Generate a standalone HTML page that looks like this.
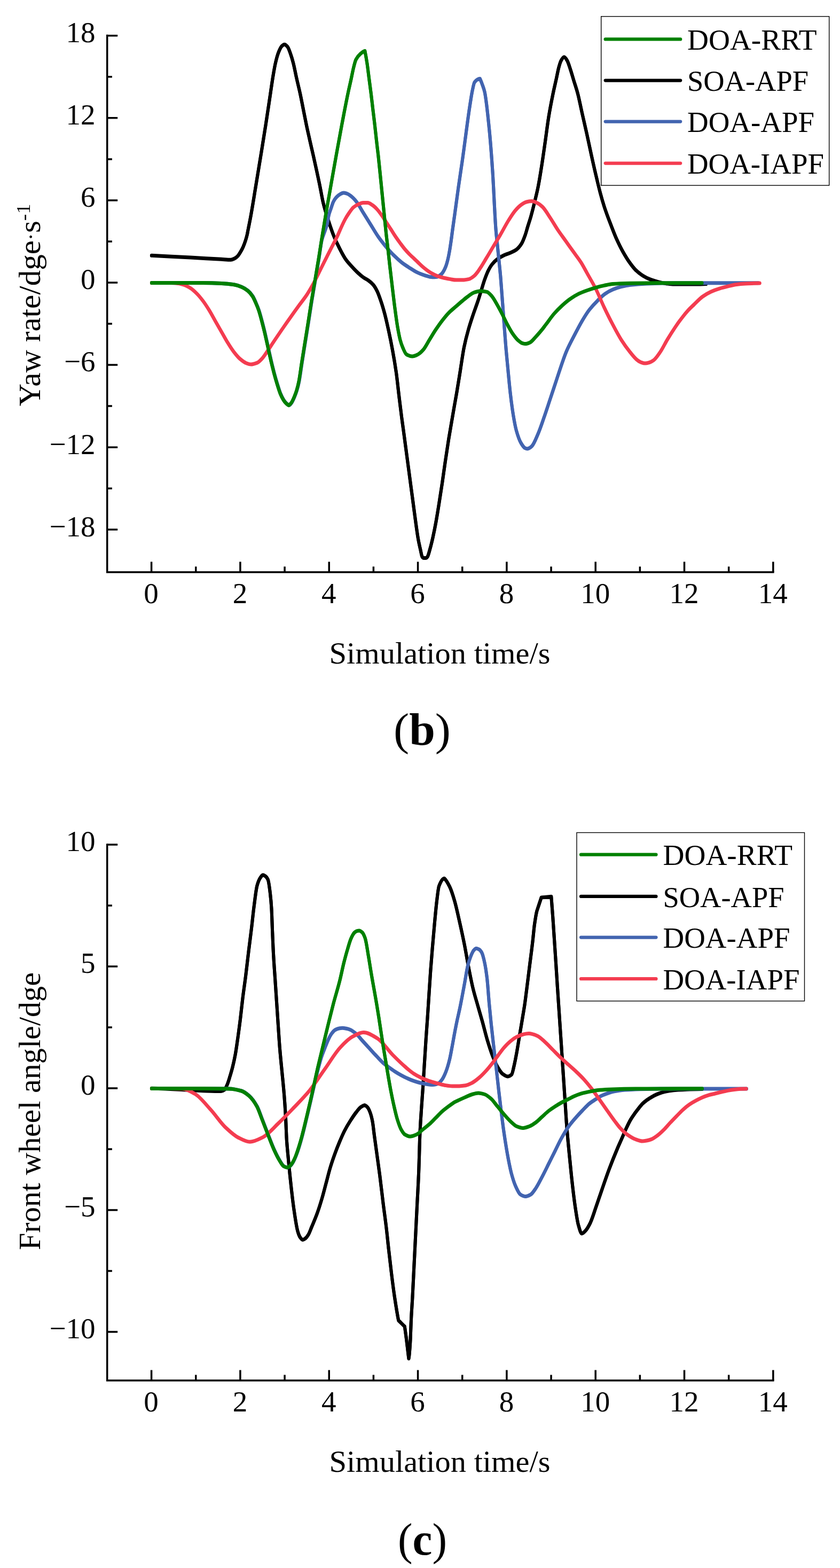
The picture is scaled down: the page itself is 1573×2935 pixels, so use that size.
<!DOCTYPE html>
<html lang="en"><head><meta charset="utf-8"><title>Figure: yaw rate and front wheel angle</title>
<style>
html,body{margin:0;padding:0;background:#fff}
body{width:1573px;height:2935px;overflow:hidden}
svg{display:block}
svg text{font-family:"Liberation Serif","DejaVu Serif",serif;fill:#000}
</style></head><body>
<svg width="1573" height="2935" viewBox="0 0 1573 2935">
<rect width="1573" height="2935" fill="#fff"/>
<g id="chart-b">
<g fill="none" stroke="#000000" stroke-width="6.00" stroke-linejoin="round" stroke-linecap="round"><path d="M283.9 478.3C308.2 479.5 332.6 480.8 356.9 482.1C376.2 483.1 395.5 484.3 414.8 485.3C420.6 485.6 426.4 486.2 432.2 486.2C434.6 486.2 437.0 484.9 439.4 483.8C441.3 482.9 443.3 481.2 445.2 479.2C447.1 477.2 449.1 473.8 451.0 470.5C452.5 468.0 453.9 465.2 455.4 461.9C456.8 458.6 458.3 454.7 459.7 450.3C460.7 447.3 461.6 444.2 462.6 440.1C463.3 437.3 463.9 433.4 464.6 430.0C466.2 421.7 467.9 413.9 469.5 405.0C472.6 388.1 475.7 368.3 478.8 349.6C482.0 330.5 485.1 311.2 488.3 291.7C491.4 272.6 494.5 253.7 497.6 233.8C500.5 215.1 503.4 195.3 506.3 175.9C507.7 166.3 509.2 155.6 510.6 146.9C512.4 136.2 514.1 125.4 515.9 117.9C517.8 109.6 519.8 102.5 521.7 97.7C523.6 93.0 525.5 88.4 527.4 86.6C529.2 84.9 530.9 83.2 532.7 83.2C534.6 83.2 536.5 85.3 538.4 87.5C540.3 89.6 542.1 95.5 544.0 100.6C545.7 105.4 547.5 111.2 549.2 117.9C551.3 126.0 553.4 137.5 555.5 146.9C557.7 156.9 560.0 165.5 562.2 175.9C564.1 184.9 566.1 195.2 568.0 204.8C569.9 214.4 571.9 224.6 573.8 233.8C575.9 244.0 578.1 253.3 580.2 262.8C582.4 272.6 584.6 281.9 586.8 291.7C588.9 301.2 591.1 310.8 593.2 320.7C595.2 330.1 597.3 339.6 599.3 349.6C601.2 358.9 603.1 370.6 605.0 378.6C607.2 387.8 609.3 394.8 611.5 402.0C613.6 409.1 615.8 415.5 617.9 421.7C620.3 428.8 622.8 436.0 625.2 442.0C627.6 447.9 630.0 452.9 632.4 457.9C634.8 463.0 637.3 467.9 639.7 472.4C642.1 476.8 644.5 481.3 646.9 484.7C650.5 489.9 654.2 493.8 657.8 497.8C662.1 502.5 666.3 507.1 670.6 511.0C673.7 513.9 676.9 516.7 680.0 518.9C683.2 521.2 686.4 522.5 689.6 524.8C692.8 527.1 695.9 529.5 699.1 533.2C701.5 536.0 703.9 540.2 706.3 545.1C708.7 550.0 711.1 557.2 713.5 564.3C715.9 571.3 718.2 579.2 720.6 588.1C723.0 597.2 725.4 608.1 727.8 619.2C730.2 630.3 732.6 642.0 735.0 655.1C737.4 668.0 739.7 681.2 742.1 698.1C743.7 709.5 745.3 725.4 746.9 738.7C748.6 752.7 750.3 767.1 752.0 780.0C753.2 789.2 754.4 797.3 755.6 806.2C757.5 820.4 759.5 835.1 761.4 849.6C763.3 864.1 765.3 878.6 767.2 893.1C769.1 907.6 771.1 922.0 773.0 936.5C774.9 951.0 776.9 966.3 778.8 980.0C780.2 990.2 781.7 1001.1 783.1 1009.0C784.5 1016.9 786.0 1023.0 787.4 1029.2C788.5 1033.9 789.5 1040.7 790.6 1042.3C791.4 1043.5 792.2 1044.6 793.0 1044.6C794.7 1044.6 796.3 1044.6 798.0 1044.6C798.9 1044.6 799.7 1043.3 800.6 1042.0C802.0 1040.0 803.4 1034.0 804.8 1029.2C806.7 1022.6 808.7 1014.6 810.6 1006.0C812.5 997.4 814.5 987.6 816.4 977.1C818.3 966.6 820.3 954.3 822.2 942.3C824.1 930.3 826.1 917.7 828.0 904.7C829.9 891.7 831.9 877.2 833.8 864.1C835.9 849.6 838.1 835.2 840.2 822.0C841.9 811.5 843.6 801.9 845.3 792.0C847.0 782.3 848.6 772.6 850.3 763.0C852.0 753.1 853.8 743.7 855.5 733.5C857.5 721.5 859.6 708.6 861.6 696.0C864.0 680.9 866.5 662.3 868.9 650.3C871.7 636.7 874.4 626.6 877.2 616.8C880.2 606.0 883.3 597.1 886.3 588.1C889.1 579.7 891.9 572.7 894.7 564.3C897.0 557.5 899.2 549.9 901.5 542.7C903.5 536.3 905.5 529.2 907.5 523.6C909.7 517.3 912.0 511.4 914.2 506.9C916.6 502.1 918.9 498.0 921.3 495.0C924.5 490.9 927.7 487.8 930.9 485.4C934.9 482.4 938.8 480.1 942.8 478.2C946.8 476.3 950.8 475.3 954.8 473.5C958.8 471.8 962.7 470.3 966.7 467.5C969.9 465.2 973.1 461.6 976.3 456.7C978.7 453.0 981.1 446.7 983.5 440.0C985.0 435.8 986.5 429.9 988.0 425.0C990.1 418.1 992.2 412.1 994.3 404.7C996.5 396.8 998.8 387.8 1001.0 378.6C1003.2 369.4 1005.5 360.8 1007.7 349.6C1010.1 337.4 1012.6 321.8 1015.0 306.2C1017.1 292.8 1019.2 277.5 1021.3 262.8C1023.3 248.5 1025.4 231.8 1027.4 219.3C1030.1 202.7 1032.8 189.1 1035.5 175.9C1037.6 165.5 1039.8 156.7 1041.9 146.9C1043.4 140.2 1044.8 132.0 1046.3 126.6C1047.7 121.4 1049.2 116.1 1050.6 113.6C1052.5 110.3 1054.5 106.8 1056.4 106.8C1058.3 106.8 1060.3 110.4 1062.2 113.6C1064.1 116.8 1066.1 123.7 1068.0 129.5C1070.1 135.7 1072.1 143.0 1074.2 149.8C1076.8 158.5 1079.5 165.9 1082.1 175.9C1084.7 185.7 1087.2 199.2 1089.8 210.6C1092.9 224.3 1095.9 237.3 1099.0 251.2C1101.9 264.3 1104.8 278.6 1107.7 291.7C1110.6 304.6 1113.4 317.3 1116.3 329.4C1118.9 340.4 1121.5 351.5 1124.1 361.2C1126.6 370.6 1129.2 379.5 1131.7 387.3C1135.6 399.2 1139.4 409.1 1143.3 419.2C1147.2 429.3 1151.0 439.5 1154.9 448.1C1158.8 456.7 1162.6 464.4 1166.5 471.3C1170.4 478.2 1174.2 484.6 1178.1 490.1C1181.9 495.5 1185.8 500.8 1189.6 504.6C1194.4 509.4 1199.3 513.2 1204.1 516.2C1208.9 519.2 1213.8 521.6 1218.6 523.4C1223.4 525.2 1228.3 526.6 1233.1 527.8C1237.9 529.0 1242.8 530.1 1247.6 530.7C1252.4 531.3 1257.2 532.1 1262.0 532.1C1274.7 532.1 1287.3 532.1 1300.0 532.1C1307.3 532.1 1314.7 531.8 1322.0 531.6" transform="translate(0,-0.5)"/><path d="M283.9 478.3C308.2 479.5 332.6 480.8 356.9 482.1C376.2 483.1 395.5 484.3 414.8 485.3C420.6 485.6 426.4 486.2 432.2 486.2C434.6 486.2 437.0 484.9 439.4 483.8C441.3 482.9 443.3 481.2 445.2 479.2C447.1 477.2 449.1 473.8 451.0 470.5C452.5 468.0 453.9 465.2 455.4 461.9C456.8 458.6 458.3 454.7 459.7 450.3C460.7 447.3 461.6 444.2 462.6 440.1C463.3 437.3 463.9 433.4 464.6 430.0C466.2 421.7 467.9 413.9 469.5 405.0C472.6 388.1 475.7 368.3 478.8 349.6C482.0 330.5 485.1 311.2 488.3 291.7C491.4 272.6 494.5 253.7 497.6 233.8C500.5 215.1 503.4 195.3 506.3 175.9C507.7 166.3 509.2 155.6 510.6 146.9C512.4 136.2 514.1 125.4 515.9 117.9C517.8 109.6 519.8 102.5 521.7 97.7C523.6 93.0 525.5 88.4 527.4 86.6C529.2 84.9 530.9 83.2 532.7 83.2C534.6 83.2 536.5 85.3 538.4 87.5C540.3 89.6 542.1 95.5 544.0 100.6C545.7 105.4 547.5 111.2 549.2 117.9C551.3 126.0 553.4 137.5 555.5 146.9C557.7 156.9 560.0 165.5 562.2 175.9C564.1 184.9 566.1 195.2 568.0 204.8C569.9 214.4 571.9 224.6 573.8 233.8C575.9 244.0 578.1 253.3 580.2 262.8C582.4 272.6 584.6 281.9 586.8 291.7C588.9 301.2 591.1 310.8 593.2 320.7C595.2 330.1 597.3 339.6 599.3 349.6C601.2 358.9 603.1 370.6 605.0 378.6C607.2 387.8 609.3 394.8 611.5 402.0C613.6 409.1 615.8 415.5 617.9 421.7C620.3 428.8 622.8 436.0 625.2 442.0C627.6 447.9 630.0 452.9 632.4 457.9C634.8 463.0 637.3 467.9 639.7 472.4C642.1 476.8 644.5 481.3 646.9 484.7C650.5 489.9 654.2 493.8 657.8 497.8C662.1 502.5 666.3 507.1 670.6 511.0C673.7 513.9 676.9 516.7 680.0 518.9C683.2 521.2 686.4 522.5 689.6 524.8C692.8 527.1 695.9 529.5 699.1 533.2C701.5 536.0 703.9 540.2 706.3 545.1C708.7 550.0 711.1 557.2 713.5 564.3C715.9 571.3 718.2 579.2 720.6 588.1C723.0 597.2 725.4 608.1 727.8 619.2C730.2 630.3 732.6 642.0 735.0 655.1C737.4 668.0 739.7 681.2 742.1 698.1C743.7 709.5 745.3 725.4 746.9 738.7C748.6 752.7 750.3 767.1 752.0 780.0C753.2 789.2 754.4 797.3 755.6 806.2C757.5 820.4 759.5 835.1 761.4 849.6C763.3 864.1 765.3 878.6 767.2 893.1C769.1 907.6 771.1 922.0 773.0 936.5C774.9 951.0 776.9 966.3 778.8 980.0C780.2 990.2 781.7 1001.1 783.1 1009.0C784.5 1016.9 786.0 1023.0 787.4 1029.2C788.5 1033.9 789.5 1040.7 790.6 1042.3C791.4 1043.5 792.2 1044.6 793.0 1044.6C794.7 1044.6 796.3 1044.6 798.0 1044.6C798.9 1044.6 799.7 1043.3 800.6 1042.0C802.0 1040.0 803.4 1034.0 804.8 1029.2C806.7 1022.6 808.7 1014.6 810.6 1006.0C812.5 997.4 814.5 987.6 816.4 977.1C818.3 966.6 820.3 954.3 822.2 942.3C824.1 930.3 826.1 917.7 828.0 904.7C829.9 891.7 831.9 877.2 833.8 864.1C835.9 849.6 838.1 835.2 840.2 822.0C841.9 811.5 843.6 801.9 845.3 792.0C847.0 782.3 848.6 772.6 850.3 763.0C852.0 753.1 853.8 743.7 855.5 733.5C857.5 721.5 859.6 708.6 861.6 696.0C864.0 680.9 866.5 662.3 868.9 650.3C871.7 636.7 874.4 626.6 877.2 616.8C880.2 606.0 883.3 597.1 886.3 588.1C889.1 579.7 891.9 572.7 894.7 564.3C897.0 557.5 899.2 549.9 901.5 542.7C903.5 536.3 905.5 529.2 907.5 523.6C909.7 517.3 912.0 511.4 914.2 506.9C916.6 502.1 918.9 498.0 921.3 495.0C924.5 490.9 927.7 487.8 930.9 485.4C934.9 482.4 938.8 480.1 942.8 478.2C946.8 476.3 950.8 475.3 954.8 473.5C958.8 471.8 962.7 470.3 966.7 467.5C969.9 465.2 973.1 461.6 976.3 456.7C978.7 453.0 981.1 446.7 983.5 440.0C985.0 435.8 986.5 429.9 988.0 425.0C990.1 418.1 992.2 412.1 994.3 404.7C996.5 396.8 998.8 387.8 1001.0 378.6C1003.2 369.4 1005.5 360.8 1007.7 349.6C1010.1 337.4 1012.6 321.8 1015.0 306.2C1017.1 292.8 1019.2 277.5 1021.3 262.8C1023.3 248.5 1025.4 231.8 1027.4 219.3C1030.1 202.7 1032.8 189.1 1035.5 175.9C1037.6 165.5 1039.8 156.7 1041.9 146.9C1043.4 140.2 1044.8 132.0 1046.3 126.6C1047.7 121.4 1049.2 116.1 1050.6 113.6C1052.5 110.3 1054.5 106.8 1056.4 106.8C1058.3 106.8 1060.3 110.4 1062.2 113.6C1064.1 116.8 1066.1 123.7 1068.0 129.5C1070.1 135.7 1072.1 143.0 1074.2 149.8C1076.8 158.5 1079.5 165.9 1082.1 175.9C1084.7 185.7 1087.2 199.2 1089.8 210.6C1092.9 224.3 1095.9 237.3 1099.0 251.2C1101.9 264.3 1104.8 278.6 1107.7 291.7C1110.6 304.6 1113.4 317.3 1116.3 329.4C1118.9 340.4 1121.5 351.5 1124.1 361.2C1126.6 370.6 1129.2 379.5 1131.7 387.3C1135.6 399.2 1139.4 409.1 1143.3 419.2C1147.2 429.3 1151.0 439.5 1154.9 448.1C1158.8 456.7 1162.6 464.4 1166.5 471.3C1170.4 478.2 1174.2 484.6 1178.1 490.1C1181.9 495.5 1185.8 500.8 1189.6 504.6C1194.4 509.4 1199.3 513.2 1204.1 516.2C1208.9 519.2 1213.8 521.6 1218.6 523.4C1223.4 525.2 1228.3 526.6 1233.1 527.8C1237.9 529.0 1242.8 530.1 1247.6 530.7C1252.4 531.3 1257.2 532.1 1262.0 532.1C1274.7 532.1 1287.3 532.1 1300.0 532.1C1307.3 532.1 1314.7 531.8 1322.0 531.6" transform="translate(0,0.5)"/></g>
<g fill="none" stroke="#4264b0" stroke-width="6.00" stroke-linejoin="round" stroke-linecap="round"><path d="M284.5 529.6C316.5 529.6 348.6 529.6 380.6 529.6C392.2 529.6 403.8 529.9 415.4 530.4C423.1 530.7 430.9 531.6 438.6 532.8C443.4 533.6 448.3 535.2 453.1 537.2C457.0 538.8 460.8 541.2 464.7 544.4C467.6 546.8 470.5 550.1 473.4 554.5C475.3 557.4 477.2 561.8 479.1 566.1C481.0 570.4 483.0 575.0 484.9 580.6C486.8 586.2 488.8 593.7 490.7 600.9C492.6 608.1 494.6 615.9 496.5 624.1C498.4 632.3 500.4 641.4 502.3 650.1C504.2 658.8 506.2 668.0 508.1 676.2C510.0 684.4 512.0 692.2 513.9 699.4C515.8 706.6 517.8 713.4 519.7 719.6C521.6 725.8 523.6 732.4 525.5 737.0C527.4 741.6 529.4 745.6 531.3 748.6C533.2 751.6 535.2 754.1 537.1 755.8C538.5 757.0 540.0 758.7 541.4 758.7C542.9 758.7 544.3 756.3 545.8 754.4C547.7 751.9 549.7 747.3 551.6 742.8C553.0 739.5 554.5 735.8 555.9 731.2C557.3 726.6 558.8 721.0 560.2 713.9C561.8 705.8 563.5 692.5 565.1 682.0C567.1 669.2 569.1 656.8 571.1 644.3C573.3 630.7 575.4 617.5 577.6 603.8C579.7 590.5 581.8 576.1 583.9 563.2C586.2 549.1 588.5 536.3 590.8 522.7C592.9 510.3 595.0 497.9 597.1 485.0C599.0 473.3 600.9 456.6 602.8 449.0C604.4 442.7 605.9 439.7 607.5 435.0C609.2 430.0 610.8 426.5 612.5 420.0C613.6 415.7 614.7 406.7 615.8 402.4C617.1 397.2 618.5 394.3 619.8 390.4C621.2 386.2 622.7 381.0 624.1 378.0C625.6 375.0 627.0 372.7 628.5 370.9C629.9 369.1 631.4 367.7 632.8 366.5C634.2 365.3 635.7 364.3 637.1 363.5C639.1 362.4 641.2 361.0 643.2 361.0C645.5 361.0 647.7 361.8 650.0 362.5C652.0 363.2 654.1 364.7 656.1 366.2C660.0 369.0 663.8 373.0 667.7 377.8C671.6 382.6 675.4 390.4 679.3 396.6C684.1 404.4 689.0 412.1 693.8 419.8C698.6 427.5 703.5 436.1 708.3 443.0C713.1 449.9 718.0 456.0 722.8 461.8C727.6 467.5 732.4 472.9 737.2 477.7C742.0 482.5 746.9 487.0 751.7 490.8C756.5 494.6 761.4 497.8 766.2 500.9C771.0 504.0 775.9 507.3 780.7 509.6C785.5 511.9 790.4 514.0 795.2 515.4C800.0 516.8 804.8 518.8 809.6 518.8C812.5 518.8 815.4 518.6 818.3 518.3C821.3 518.0 824.2 515.4 827.2 512.5C829.6 510.1 832.1 505.3 834.5 499.5C835.9 496.1 837.4 490.8 838.8 485.0C839.8 481.1 840.7 476.0 841.7 470.5C842.7 465.0 843.6 458.4 844.6 451.7C845.6 445.0 846.5 437.1 847.5 430.0C848.9 419.7 850.3 410.2 851.7 400.0C854.0 383.7 856.2 365.9 858.5 350.1C860.9 333.0 863.3 317.9 865.7 301.0C870.5 267.7 875.2 227.8 880.0 197.0C881.5 187.3 883.0 177.0 884.5 170.0C885.9 163.4 887.3 155.5 888.7 153.8C892.1 149.7 895.4 147.3 898.8 147.3C900.4 150.9 902.1 155.1 903.7 159.7C905.0 163.3 906.2 166.3 907.5 171.7C910.4 184.3 913.4 213.7 916.3 243.0C918.3 263.3 920.4 290.0 922.4 320.0C924.5 350.5 926.5 404.4 928.6 430.0C929.6 442.0 930.5 449.4 931.5 459.0C932.5 468.6 933.4 478.3 934.4 487.9C935.4 497.5 936.3 505.9 937.3 516.9C938.0 525.3 938.8 536.2 939.5 545.8C940.2 555.4 941.0 564.9 941.7 574.8C942.4 584.2 943.1 594.3 943.8 603.8C944.9 618.5 946.0 633.9 947.1 646.9C948.4 662.8 949.8 676.3 951.1 690.3C952.5 705.3 954.0 721.4 955.4 733.8C957.3 750.6 959.3 765.6 961.2 777.2C963.1 788.8 965.1 799.3 967.0 806.2C969.9 816.5 972.8 824.5 975.7 829.4C978.1 833.5 980.6 837.4 983.0 838.6C984.4 839.3 985.9 840.0 987.3 840.0C988.7 840.0 990.1 839.2 991.5 838.6C993.0 837.9 994.5 836.7 996.0 835.2C999.9 831.2 1003.7 821.0 1007.6 812.0C1011.5 803.0 1015.3 791.2 1019.2 780.1C1023.1 769.0 1026.9 757.0 1030.8 745.4C1034.6 733.9 1038.5 722.1 1042.3 710.6C1046.2 699.0 1050.0 686.8 1053.9 675.9C1056.1 669.6 1058.4 663.2 1060.6 658.0C1065.9 645.5 1071.3 636.0 1076.6 625.7C1081.2 616.8 1085.9 607.8 1090.5 600.0C1094.8 592.7 1099.2 585.6 1103.5 580.0C1108.7 573.3 1113.8 567.9 1119.0 562.8C1123.7 558.1 1128.4 553.3 1133.1 550.1C1137.9 546.8 1142.6 544.1 1147.4 542.1C1152.7 539.8 1158.1 538.0 1163.4 536.7C1168.7 535.4 1174.0 534.1 1179.3 533.5C1189.9 532.2 1200.6 531.4 1211.2 531.0C1229.3 530.3 1247.4 529.8 1265.5 529.8C1317.0 529.8 1368.5 529.8 1420.0 529.8" transform="translate(0,-0.5)"/><path d="M284.5 529.6C316.5 529.6 348.6 529.6 380.6 529.6C392.2 529.6 403.8 529.9 415.4 530.4C423.1 530.7 430.9 531.6 438.6 532.8C443.4 533.6 448.3 535.2 453.1 537.2C457.0 538.8 460.8 541.2 464.7 544.4C467.6 546.8 470.5 550.1 473.4 554.5C475.3 557.4 477.2 561.8 479.1 566.1C481.0 570.4 483.0 575.0 484.9 580.6C486.8 586.2 488.8 593.7 490.7 600.9C492.6 608.1 494.6 615.9 496.5 624.1C498.4 632.3 500.4 641.4 502.3 650.1C504.2 658.8 506.2 668.0 508.1 676.2C510.0 684.4 512.0 692.2 513.9 699.4C515.8 706.6 517.8 713.4 519.7 719.6C521.6 725.8 523.6 732.4 525.5 737.0C527.4 741.6 529.4 745.6 531.3 748.6C533.2 751.6 535.2 754.1 537.1 755.8C538.5 757.0 540.0 758.7 541.4 758.7C542.9 758.7 544.3 756.3 545.8 754.4C547.7 751.9 549.7 747.3 551.6 742.8C553.0 739.5 554.5 735.8 555.9 731.2C557.3 726.6 558.8 721.0 560.2 713.9C561.8 705.8 563.5 692.5 565.1 682.0C567.1 669.2 569.1 656.8 571.1 644.3C573.3 630.7 575.4 617.5 577.6 603.8C579.7 590.5 581.8 576.1 583.9 563.2C586.2 549.1 588.5 536.3 590.8 522.7C592.9 510.3 595.0 497.9 597.1 485.0C599.0 473.3 600.9 456.6 602.8 449.0C604.4 442.7 605.9 439.7 607.5 435.0C609.2 430.0 610.8 426.5 612.5 420.0C613.6 415.7 614.7 406.7 615.8 402.4C617.1 397.2 618.5 394.3 619.8 390.4C621.2 386.2 622.7 381.0 624.1 378.0C625.6 375.0 627.0 372.7 628.5 370.9C629.9 369.1 631.4 367.7 632.8 366.5C634.2 365.3 635.7 364.3 637.1 363.5C639.1 362.4 641.2 361.0 643.2 361.0C645.5 361.0 647.7 361.8 650.0 362.5C652.0 363.2 654.1 364.7 656.1 366.2C660.0 369.0 663.8 373.0 667.7 377.8C671.6 382.6 675.4 390.4 679.3 396.6C684.1 404.4 689.0 412.1 693.8 419.8C698.6 427.5 703.5 436.1 708.3 443.0C713.1 449.9 718.0 456.0 722.8 461.8C727.6 467.5 732.4 472.9 737.2 477.7C742.0 482.5 746.9 487.0 751.7 490.8C756.5 494.6 761.4 497.8 766.2 500.9C771.0 504.0 775.9 507.3 780.7 509.6C785.5 511.9 790.4 514.0 795.2 515.4C800.0 516.8 804.8 518.8 809.6 518.8C812.5 518.8 815.4 518.6 818.3 518.3C821.3 518.0 824.2 515.4 827.2 512.5C829.6 510.1 832.1 505.3 834.5 499.5C835.9 496.1 837.4 490.8 838.8 485.0C839.8 481.1 840.7 476.0 841.7 470.5C842.7 465.0 843.6 458.4 844.6 451.7C845.6 445.0 846.5 437.1 847.5 430.0C848.9 419.7 850.3 410.2 851.7 400.0C854.0 383.7 856.2 365.9 858.5 350.1C860.9 333.0 863.3 317.9 865.7 301.0C870.5 267.7 875.2 227.8 880.0 197.0C881.5 187.3 883.0 177.0 884.5 170.0C885.9 163.4 887.3 155.5 888.7 153.8C892.1 149.7 895.4 147.3 898.8 147.3C900.4 150.9 902.1 155.1 903.7 159.7C905.0 163.3 906.2 166.3 907.5 171.7C910.4 184.3 913.4 213.7 916.3 243.0C918.3 263.3 920.4 290.0 922.4 320.0C924.5 350.5 926.5 404.4 928.6 430.0C929.6 442.0 930.5 449.4 931.5 459.0C932.5 468.6 933.4 478.3 934.4 487.9C935.4 497.5 936.3 505.9 937.3 516.9C938.0 525.3 938.8 536.2 939.5 545.8C940.2 555.4 941.0 564.9 941.7 574.8C942.4 584.2 943.1 594.3 943.8 603.8C944.9 618.5 946.0 633.9 947.1 646.9C948.4 662.8 949.8 676.3 951.1 690.3C952.5 705.3 954.0 721.4 955.4 733.8C957.3 750.6 959.3 765.6 961.2 777.2C963.1 788.8 965.1 799.3 967.0 806.2C969.9 816.5 972.8 824.5 975.7 829.4C978.1 833.5 980.6 837.4 983.0 838.6C984.4 839.3 985.9 840.0 987.3 840.0C988.7 840.0 990.1 839.2 991.5 838.6C993.0 837.9 994.5 836.7 996.0 835.2C999.9 831.2 1003.7 821.0 1007.6 812.0C1011.5 803.0 1015.3 791.2 1019.2 780.1C1023.1 769.0 1026.9 757.0 1030.8 745.4C1034.6 733.9 1038.5 722.1 1042.3 710.6C1046.2 699.0 1050.0 686.8 1053.9 675.9C1056.1 669.6 1058.4 663.2 1060.6 658.0C1065.9 645.5 1071.3 636.0 1076.6 625.7C1081.2 616.8 1085.9 607.8 1090.5 600.0C1094.8 592.7 1099.2 585.6 1103.5 580.0C1108.7 573.3 1113.8 567.9 1119.0 562.8C1123.7 558.1 1128.4 553.3 1133.1 550.1C1137.9 546.8 1142.6 544.1 1147.4 542.1C1152.7 539.8 1158.1 538.0 1163.4 536.7C1168.7 535.4 1174.0 534.1 1179.3 533.5C1189.9 532.2 1200.6 531.4 1211.2 531.0C1229.3 530.3 1247.4 529.8 1265.5 529.8C1317.0 529.8 1368.5 529.8 1420.0 529.8" transform="translate(0,0.5)"/></g>
<g fill="none" stroke="#f43c50" stroke-width="6.00" stroke-linejoin="round" stroke-linecap="round"><path d="M283.9 529.6C295.9 529.6 308.0 529.6 320.0 529.6C324.6 529.6 329.1 530.1 333.7 530.6C337.6 531.0 341.4 532.2 345.3 533.5C349.2 534.8 353.0 537.0 356.9 539.5C360.8 542.0 364.6 545.6 368.5 549.5C372.4 553.4 376.2 558.1 380.1 563.2C384.0 568.3 387.8 574.3 391.7 580.6C395.5 586.8 399.4 594.2 403.2 600.9C407.1 607.7 410.9 614.5 414.8 621.2C418.7 627.9 422.5 635.2 426.4 641.4C430.3 647.6 434.1 653.8 438.0 658.8C441.9 663.8 445.7 668.6 449.6 671.9C453.5 675.2 457.3 678.3 461.2 679.7C464.1 680.8 467.0 682.0 469.9 682.0C473.7 682.0 477.6 680.6 481.4 679.1C484.3 678.0 487.2 674.9 490.1 671.9C493.0 668.9 495.9 664.4 498.8 660.3C501.7 656.2 504.6 651.5 507.5 647.2C511.4 641.4 515.2 635.6 519.1 629.9C523.0 624.1 526.9 618.3 530.9 612.6C535.6 605.7 540.4 598.9 545.2 592.2C550.0 585.4 554.9 578.6 559.7 572.0C564.5 565.4 569.3 559.7 574.1 552.5C578.0 546.7 581.8 540.0 585.7 533.0C588.8 527.4 591.9 521.2 595.0 515.0C597.4 510.2 599.8 505.0 602.3 500.1C605.1 494.4 607.9 488.9 610.7 483.3C613.1 478.5 615.6 473.6 618.0 468.9C620.4 464.2 622.8 459.7 625.2 455.0C627.6 450.3 630.0 445.7 632.4 440.6C634.8 435.4 637.3 429.1 639.7 423.9C642.1 418.8 644.5 413.7 646.9 409.4C648.8 405.9 650.8 402.8 652.7 400.0C655.8 395.5 658.9 390.6 662.0 388.0C665.3 385.3 668.7 383.3 672.0 382.0C674.7 380.9 677.3 379.6 680.0 379.6C682.9 379.6 685.8 379.6 688.7 379.6C691.6 379.6 694.5 382.1 697.4 383.9C700.3 385.7 703.2 388.6 706.1 391.7C709.0 394.8 711.9 398.9 714.8 403.0C717.7 407.0 720.5 411.7 723.4 416.1C726.3 420.5 729.1 424.7 732.0 429.2C734.9 433.7 737.9 438.7 740.8 443.0C743.7 447.3 746.6 451.3 749.5 455.2C752.4 459.1 755.3 463.1 758.2 466.5C761.1 469.9 764.0 473.1 766.9 476.0C769.7 478.9 772.6 481.3 775.4 484.0C777.9 486.3 780.3 488.7 782.7 491.0C786.7 494.8 790.7 498.8 794.7 502.0C798.7 505.2 802.6 508.2 806.6 510.5C810.6 512.9 814.6 515.0 818.6 516.5C822.6 518.0 826.5 519.1 830.5 520.0C834.5 521.0 838.5 521.7 842.5 522.4C846.5 523.1 850.4 524.1 854.4 524.1C858.4 524.1 862.4 524.1 866.4 524.1C870.4 524.1 874.3 523.3 878.3 522.4C881.5 521.6 884.7 519.1 887.9 516.5C890.3 514.5 892.7 511.3 895.1 508.1C897.5 505.0 899.8 501.0 902.2 497.3C904.6 493.5 907.0 489.4 909.4 485.4C911.8 481.4 914.2 477.5 916.6 473.5C919.0 469.5 921.3 465.5 923.7 461.5C926.1 457.5 928.5 453.6 930.9 449.6C932.8 446.4 934.8 443.2 936.7 439.9C942.0 430.9 947.3 420.4 952.6 412.0C956.7 405.5 960.9 398.8 965.0 394.0C968.6 389.8 972.2 386.0 975.8 383.5C979.2 381.1 982.6 378.8 986.0 378.0C989.3 377.3 992.7 376.6 996.0 376.6C999.3 376.6 1002.7 378.4 1006.0 380.0C1009.3 381.5 1012.6 384.2 1015.9 387.3C1020.7 391.9 1025.5 400.4 1030.3 407.6C1035.1 414.8 1040.0 423.5 1044.8 430.7C1049.6 437.9 1054.5 444.2 1059.3 451.0C1064.1 457.8 1069.0 464.5 1073.8 471.3C1078.6 478.1 1083.5 484.0 1088.3 491.6C1092.1 497.6 1095.9 505.1 1099.7 511.9C1105.0 521.4 1110.3 530.0 1115.6 540.5C1120.9 551.0 1126.2 564.5 1131.5 575.6C1136.8 586.7 1142.1 597.4 1147.4 607.4C1152.7 617.5 1158.1 627.7 1163.4 636.1C1168.7 644.4 1174.0 651.8 1179.3 658.4C1183.5 663.7 1187.8 669.4 1192.0 672.8C1194.7 675.0 1197.3 677.0 1200.0 678.0C1202.7 679.0 1205.3 680.1 1208.0 680.1C1210.7 680.1 1213.3 679.3 1216.0 678.5C1218.6 677.7 1221.3 676.3 1223.9 674.4C1228.2 671.4 1232.4 664.6 1236.7 658.4C1240.9 652.2 1245.2 643.2 1249.4 636.1C1254.1 628.3 1258.8 620.8 1263.5 613.8C1268.0 607.1 1272.5 600.8 1277.0 595.0C1280.8 590.0 1284.7 585.2 1288.5 581.0C1292.2 576.9 1296.0 573.6 1299.7 570.0C1305.0 564.9 1310.3 559.1 1315.6 555.3C1320.9 551.5 1326.2 548.4 1331.5 546.0C1336.8 543.6 1342.1 541.7 1347.4 540.1C1352.7 538.5 1358.1 537.2 1363.4 535.9C1368.7 534.7 1374.0 533.2 1379.3 532.5C1384.6 531.8 1389.9 531.3 1395.2 531.0C1400.5 530.7 1405.9 530.4 1411.2 530.2C1415.0 530.1 1418.8 530.0 1422.6 529.9" transform="translate(0,-0.5)"/><path d="M283.9 529.6C295.9 529.6 308.0 529.6 320.0 529.6C324.6 529.6 329.1 530.1 333.7 530.6C337.6 531.0 341.4 532.2 345.3 533.5C349.2 534.8 353.0 537.0 356.9 539.5C360.8 542.0 364.6 545.6 368.5 549.5C372.4 553.4 376.2 558.1 380.1 563.2C384.0 568.3 387.8 574.3 391.7 580.6C395.5 586.8 399.4 594.2 403.2 600.9C407.1 607.7 410.9 614.5 414.8 621.2C418.7 627.9 422.5 635.2 426.4 641.4C430.3 647.6 434.1 653.8 438.0 658.8C441.9 663.8 445.7 668.6 449.6 671.9C453.5 675.2 457.3 678.3 461.2 679.7C464.1 680.8 467.0 682.0 469.9 682.0C473.7 682.0 477.6 680.6 481.4 679.1C484.3 678.0 487.2 674.9 490.1 671.9C493.0 668.9 495.9 664.4 498.8 660.3C501.7 656.2 504.6 651.5 507.5 647.2C511.4 641.4 515.2 635.6 519.1 629.9C523.0 624.1 526.9 618.3 530.9 612.6C535.6 605.7 540.4 598.9 545.2 592.2C550.0 585.4 554.9 578.6 559.7 572.0C564.5 565.4 569.3 559.7 574.1 552.5C578.0 546.7 581.8 540.0 585.7 533.0C588.8 527.4 591.9 521.2 595.0 515.0C597.4 510.2 599.8 505.0 602.3 500.1C605.1 494.4 607.9 488.9 610.7 483.3C613.1 478.5 615.6 473.6 618.0 468.9C620.4 464.2 622.8 459.7 625.2 455.0C627.6 450.3 630.0 445.7 632.4 440.6C634.8 435.4 637.3 429.1 639.7 423.9C642.1 418.8 644.5 413.7 646.9 409.4C648.8 405.9 650.8 402.8 652.7 400.0C655.8 395.5 658.9 390.6 662.0 388.0C665.3 385.3 668.7 383.3 672.0 382.0C674.7 380.9 677.3 379.6 680.0 379.6C682.9 379.6 685.8 379.6 688.7 379.6C691.6 379.6 694.5 382.1 697.4 383.9C700.3 385.7 703.2 388.6 706.1 391.7C709.0 394.8 711.9 398.9 714.8 403.0C717.7 407.0 720.5 411.7 723.4 416.1C726.3 420.5 729.1 424.7 732.0 429.2C734.9 433.7 737.9 438.7 740.8 443.0C743.7 447.3 746.6 451.3 749.5 455.2C752.4 459.1 755.3 463.1 758.2 466.5C761.1 469.9 764.0 473.1 766.9 476.0C769.7 478.9 772.6 481.3 775.4 484.0C777.9 486.3 780.3 488.7 782.7 491.0C786.7 494.8 790.7 498.8 794.7 502.0C798.7 505.2 802.6 508.2 806.6 510.5C810.6 512.9 814.6 515.0 818.6 516.5C822.6 518.0 826.5 519.1 830.5 520.0C834.5 521.0 838.5 521.7 842.5 522.4C846.5 523.1 850.4 524.1 854.4 524.1C858.4 524.1 862.4 524.1 866.4 524.1C870.4 524.1 874.3 523.3 878.3 522.4C881.5 521.6 884.7 519.1 887.9 516.5C890.3 514.5 892.7 511.3 895.1 508.1C897.5 505.0 899.8 501.0 902.2 497.3C904.6 493.5 907.0 489.4 909.4 485.4C911.8 481.4 914.2 477.5 916.6 473.5C919.0 469.5 921.3 465.5 923.7 461.5C926.1 457.5 928.5 453.6 930.9 449.6C932.8 446.4 934.8 443.2 936.7 439.9C942.0 430.9 947.3 420.4 952.6 412.0C956.7 405.5 960.9 398.8 965.0 394.0C968.6 389.8 972.2 386.0 975.8 383.5C979.2 381.1 982.6 378.8 986.0 378.0C989.3 377.3 992.7 376.6 996.0 376.6C999.3 376.6 1002.7 378.4 1006.0 380.0C1009.3 381.5 1012.6 384.2 1015.9 387.3C1020.7 391.9 1025.5 400.4 1030.3 407.6C1035.1 414.8 1040.0 423.5 1044.8 430.7C1049.6 437.9 1054.5 444.2 1059.3 451.0C1064.1 457.8 1069.0 464.5 1073.8 471.3C1078.6 478.1 1083.5 484.0 1088.3 491.6C1092.1 497.6 1095.9 505.1 1099.7 511.9C1105.0 521.4 1110.3 530.0 1115.6 540.5C1120.9 551.0 1126.2 564.5 1131.5 575.6C1136.8 586.7 1142.1 597.4 1147.4 607.4C1152.7 617.5 1158.1 627.7 1163.4 636.1C1168.7 644.4 1174.0 651.8 1179.3 658.4C1183.5 663.7 1187.8 669.4 1192.0 672.8C1194.7 675.0 1197.3 677.0 1200.0 678.0C1202.7 679.0 1205.3 680.1 1208.0 680.1C1210.7 680.1 1213.3 679.3 1216.0 678.5C1218.6 677.7 1221.3 676.3 1223.9 674.4C1228.2 671.4 1232.4 664.6 1236.7 658.4C1240.9 652.2 1245.2 643.2 1249.4 636.1C1254.1 628.3 1258.8 620.8 1263.5 613.8C1268.0 607.1 1272.5 600.8 1277.0 595.0C1280.8 590.0 1284.7 585.2 1288.5 581.0C1292.2 576.9 1296.0 573.6 1299.7 570.0C1305.0 564.9 1310.3 559.1 1315.6 555.3C1320.9 551.5 1326.2 548.4 1331.5 546.0C1336.8 543.6 1342.1 541.7 1347.4 540.1C1352.7 538.5 1358.1 537.2 1363.4 535.9C1368.7 534.7 1374.0 533.2 1379.3 532.5C1384.6 531.8 1389.9 531.3 1395.2 531.0C1400.5 530.7 1405.9 530.4 1411.2 530.2C1415.0 530.1 1418.8 530.0 1422.6 529.9" transform="translate(0,0.5)"/></g>
<g fill="none" stroke="#008000" stroke-width="6.00" stroke-linejoin="round" stroke-linecap="round"><path d="M283.9 529.6C315.9 529.6 348.0 529.6 380.0 529.6C391.6 529.6 403.2 529.9 414.8 530.4C422.5 530.7 430.3 531.6 438.0 532.8C442.8 533.6 447.7 535.2 452.5 537.2C456.4 538.8 460.2 541.2 464.1 544.4C467.0 546.8 469.9 550.1 472.8 554.5C474.7 557.4 476.6 561.8 478.5 566.1C480.4 570.4 482.4 575.0 484.3 580.6C486.2 586.2 488.2 593.7 490.1 600.9C492.0 608.1 494.0 615.9 495.9 624.1C497.8 632.3 499.8 641.4 501.7 650.1C503.6 658.8 505.6 668.0 507.5 676.2C509.4 684.4 511.4 692.2 513.3 699.4C515.2 706.6 517.2 713.4 519.1 719.6C521.0 725.8 523.0 732.4 524.9 737.0C526.8 741.6 528.8 745.6 530.7 748.6C532.6 751.6 534.6 754.1 536.5 755.8C537.9 757.0 539.4 758.1 540.8 758.7C542.3 757.9 543.7 756.3 545.2 754.4C547.1 751.9 549.1 747.3 551.0 742.8C552.4 739.5 553.9 735.8 555.3 731.2C556.7 726.6 558.2 721.0 559.6 713.9C561.2 705.8 562.9 692.5 564.5 682.0C566.5 669.2 568.5 656.8 570.5 644.3C572.7 630.7 574.8 617.5 577.0 603.8C579.1 590.5 581.2 576.1 583.3 563.2C585.6 549.1 587.9 536.3 590.2 522.7C592.3 510.3 594.4 498.0 596.5 485.0C598.3 473.7 600.2 461.4 602.0 450.0C604.8 432.8 607.5 416.1 610.3 400.0C612.7 386.2 615.0 373.5 617.4 360.0C618.5 353.7 619.6 347.3 620.7 341.0C623.9 322.8 627.1 304.7 630.3 287.0C633.7 268.4 637.0 249.7 640.4 232.0C644.1 212.7 647.7 193.4 651.4 175.9C653.5 165.7 655.7 156.8 657.8 146.9C659.2 140.3 660.7 132.3 662.1 126.6C663.6 120.8 665.0 114.5 666.5 111.6C669.4 105.9 672.3 103.0 675.2 100.5C677.9 98.2 680.6 96.2 683.3 95.3C684.6 101.5 686.0 109.2 687.3 117.9C688.6 126.1 689.8 137.2 691.1 146.9C692.4 156.6 693.6 165.7 694.9 175.9C696.0 185.0 697.2 195.3 698.3 204.8C699.5 214.6 700.6 223.7 701.8 233.8C702.9 243.0 703.9 253.4 705.0 262.8C706.1 272.7 707.2 281.6 708.4 291.7C709.4 300.9 710.4 310.8 711.4 320.7C712.4 330.1 713.3 340.0 714.3 349.6C715.3 359.2 716.2 368.9 717.2 378.6C718.2 388.3 719.1 398.0 720.1 407.6C721.2 418.5 722.3 430.0 723.4 439.9C724.4 448.5 725.3 455.7 726.2 463.9C727.6 475.4 728.9 488.2 730.2 499.7C731.8 513.7 733.4 527.1 735.0 540.4C736.6 553.4 738.1 566.9 739.7 578.6C741.3 590.6 742.9 602.7 744.5 612.0C746.1 621.3 747.7 629.9 749.3 635.9C750.9 641.9 752.5 646.6 754.1 650.3C756.5 655.8 758.8 662.0 761.2 663.4C764.8 665.5 768.4 667.0 772.0 667.0C775.6 667.0 779.1 665.1 782.7 663.4C785.9 661.8 789.1 658.7 792.3 655.1C796.3 650.7 800.3 642.3 804.3 635.9C808.3 629.5 812.2 622.7 816.2 616.8C820.2 610.9 824.1 605.2 828.1 600.1C832.1 594.9 836.1 589.9 840.1 585.8C844.6 581.2 849.1 577.7 853.6 573.8C857.7 570.2 861.9 566.5 866.0 563.1C869.5 560.2 872.9 557.2 876.4 554.7C880.2 552.0 884.1 548.8 887.9 547.5C891.9 546.1 895.8 544.7 899.8 544.7C903.8 544.7 907.8 545.3 911.8 546.3C915.0 547.1 918.1 551.1 921.3 554.7C924.5 558.4 927.7 564.7 930.9 570.2C934.1 575.7 937.3 581.9 940.5 588.1C943.7 594.2 946.8 601.4 950.0 607.3C953.2 613.3 956.4 619.3 959.6 624.0C962.8 628.6 965.9 633.1 969.1 635.9C972.3 638.8 975.5 641.6 978.7 642.6C980.3 643.1 981.9 643.6 983.5 643.6C986.7 643.6 989.8 642.2 993.0 640.7C996.2 639.2 999.4 634.6 1002.6 631.2C1005.4 628.2 1008.2 625.0 1011.0 621.7C1012.2 620.4 1013.4 619.1 1014.5 617.7C1017.0 614.6 1019.5 611.1 1022.0 607.8C1027.3 600.8 1032.6 593.0 1037.9 586.9C1042.7 581.4 1047.5 576.6 1052.3 572.2C1057.5 567.5 1062.6 563.1 1067.8 559.5C1073.1 555.8 1078.4 552.5 1083.7 549.9C1089.0 547.3 1094.4 545.4 1099.7 543.5C1105.0 541.6 1110.3 539.8 1115.6 538.3C1120.9 536.8 1126.2 535.5 1131.5 534.4C1136.8 533.3 1142.1 532.0 1147.4 531.6C1158.0 530.8 1168.7 530.5 1179.3 530.3C1196.2 530.0 1213.1 529.8 1230.0 529.8C1258.2 529.8 1286.3 529.8 1314.5 529.8" transform="translate(0,-0.5)"/><path d="M283.9 529.6C315.9 529.6 348.0 529.6 380.0 529.6C391.6 529.6 403.2 529.9 414.8 530.4C422.5 530.7 430.3 531.6 438.0 532.8C442.8 533.6 447.7 535.2 452.5 537.2C456.4 538.8 460.2 541.2 464.1 544.4C467.0 546.8 469.9 550.1 472.8 554.5C474.7 557.4 476.6 561.8 478.5 566.1C480.4 570.4 482.4 575.0 484.3 580.6C486.2 586.2 488.2 593.7 490.1 600.9C492.0 608.1 494.0 615.9 495.9 624.1C497.8 632.3 499.8 641.4 501.7 650.1C503.6 658.8 505.6 668.0 507.5 676.2C509.4 684.4 511.4 692.2 513.3 699.4C515.2 706.6 517.2 713.4 519.1 719.6C521.0 725.8 523.0 732.4 524.9 737.0C526.8 741.6 528.8 745.6 530.7 748.6C532.6 751.6 534.6 754.1 536.5 755.8C537.9 757.0 539.4 758.1 540.8 758.7C542.3 757.9 543.7 756.3 545.2 754.4C547.1 751.9 549.1 747.3 551.0 742.8C552.4 739.5 553.9 735.8 555.3 731.2C556.7 726.6 558.2 721.0 559.6 713.9C561.2 705.8 562.9 692.5 564.5 682.0C566.5 669.2 568.5 656.8 570.5 644.3C572.7 630.7 574.8 617.5 577.0 603.8C579.1 590.5 581.2 576.1 583.3 563.2C585.6 549.1 587.9 536.3 590.2 522.7C592.3 510.3 594.4 498.0 596.5 485.0C598.3 473.7 600.2 461.4 602.0 450.0C604.8 432.8 607.5 416.1 610.3 400.0C612.7 386.2 615.0 373.5 617.4 360.0C618.5 353.7 619.6 347.3 620.7 341.0C623.9 322.8 627.1 304.7 630.3 287.0C633.7 268.4 637.0 249.7 640.4 232.0C644.1 212.7 647.7 193.4 651.4 175.9C653.5 165.7 655.7 156.8 657.8 146.9C659.2 140.3 660.7 132.3 662.1 126.6C663.6 120.8 665.0 114.5 666.5 111.6C669.4 105.9 672.3 103.0 675.2 100.5C677.9 98.2 680.6 96.2 683.3 95.3C684.6 101.5 686.0 109.2 687.3 117.9C688.6 126.1 689.8 137.2 691.1 146.9C692.4 156.6 693.6 165.7 694.9 175.9C696.0 185.0 697.2 195.3 698.3 204.8C699.5 214.6 700.6 223.7 701.8 233.8C702.9 243.0 703.9 253.4 705.0 262.8C706.1 272.7 707.2 281.6 708.4 291.7C709.4 300.9 710.4 310.8 711.4 320.7C712.4 330.1 713.3 340.0 714.3 349.6C715.3 359.2 716.2 368.9 717.2 378.6C718.2 388.3 719.1 398.0 720.1 407.6C721.2 418.5 722.3 430.0 723.4 439.9C724.4 448.5 725.3 455.7 726.2 463.9C727.6 475.4 728.9 488.2 730.2 499.7C731.8 513.7 733.4 527.1 735.0 540.4C736.6 553.4 738.1 566.9 739.7 578.6C741.3 590.6 742.9 602.7 744.5 612.0C746.1 621.3 747.7 629.9 749.3 635.9C750.9 641.9 752.5 646.6 754.1 650.3C756.5 655.8 758.8 662.0 761.2 663.4C764.8 665.5 768.4 667.0 772.0 667.0C775.6 667.0 779.1 665.1 782.7 663.4C785.9 661.8 789.1 658.7 792.3 655.1C796.3 650.7 800.3 642.3 804.3 635.9C808.3 629.5 812.2 622.7 816.2 616.8C820.2 610.9 824.1 605.2 828.1 600.1C832.1 594.9 836.1 589.9 840.1 585.8C844.6 581.2 849.1 577.7 853.6 573.8C857.7 570.2 861.9 566.5 866.0 563.1C869.5 560.2 872.9 557.2 876.4 554.7C880.2 552.0 884.1 548.8 887.9 547.5C891.9 546.1 895.8 544.7 899.8 544.7C903.8 544.7 907.8 545.3 911.8 546.3C915.0 547.1 918.1 551.1 921.3 554.7C924.5 558.4 927.7 564.7 930.9 570.2C934.1 575.7 937.3 581.9 940.5 588.1C943.7 594.2 946.8 601.4 950.0 607.3C953.2 613.3 956.4 619.3 959.6 624.0C962.8 628.6 965.9 633.1 969.1 635.9C972.3 638.8 975.5 641.6 978.7 642.6C980.3 643.1 981.9 643.6 983.5 643.6C986.7 643.6 989.8 642.2 993.0 640.7C996.2 639.2 999.4 634.6 1002.6 631.2C1005.4 628.2 1008.2 625.0 1011.0 621.7C1012.2 620.4 1013.4 619.1 1014.5 617.7C1017.0 614.6 1019.5 611.1 1022.0 607.8C1027.3 600.8 1032.6 593.0 1037.9 586.9C1042.7 581.4 1047.5 576.6 1052.3 572.2C1057.5 567.5 1062.6 563.1 1067.8 559.5C1073.1 555.8 1078.4 552.5 1083.7 549.9C1089.0 547.3 1094.4 545.4 1099.7 543.5C1105.0 541.6 1110.3 539.8 1115.6 538.3C1120.9 536.8 1126.2 535.5 1131.5 534.4C1136.8 533.3 1142.1 532.0 1147.4 531.6C1158.0 530.8 1168.7 530.5 1179.3 530.3C1196.2 530.0 1213.1 529.8 1230.0 529.8C1258.2 529.8 1286.3 529.8 1314.5 529.8" transform="translate(0,0.5)"/></g>
<path d="M200.70 66.60 V1071.00 H1447.84" fill="none" stroke="#000" stroke-width="3.50" stroke-linecap="square" stroke-linejoin="miter"/>
<path d="M200.70 66.76h19.50M200.70 220.84h19.50M200.70 374.92h19.50M200.70 529.00h19.50M200.70 683.08h19.50M200.70 837.16h19.50M200.70 991.24h19.50M200.70 143.80h9.20M200.70 297.88h9.20M200.70 451.96h9.20M200.70 606.04h9.20M200.70 760.12h9.20M200.70 914.20h9.20M283.60 1071.00v-19.50M366.76 1071.00v-10.50M449.92 1071.00v-19.50M533.08 1071.00v-10.50M616.24 1071.00v-19.50M699.40 1071.00v-10.50M782.56 1071.00v-19.50M865.72 1071.00v-10.50M948.88 1071.00v-19.50M1032.04 1071.00v-10.50M1115.20 1071.00v-19.50M1198.36 1071.00v-10.50M1281.52 1071.00v-19.50M1364.68 1071.00v-10.50M1447.84 1071.00v-19.50" fill="none" stroke="#000" stroke-width="3.50"/>
<text x="178.5" y="79.1" font-size="55.0" text-anchor="end">18</text>
<text x="178.5" y="233.1" font-size="55.0" text-anchor="end">12</text>
<text x="178.5" y="387.2" font-size="55.0" text-anchor="end">6</text>
<text x="178.5" y="541.3" font-size="55.0" text-anchor="end">0</text>
<text x="178.5" y="695.4" font-size="55.0" text-anchor="end">−6</text>
<text x="178.5" y="849.5" font-size="55.0" text-anchor="end">−12</text>
<text x="178.5" y="1003.5" font-size="55.0" text-anchor="end">−18</text>
<text x="283.1" y="1129.0" font-size="55.0" text-anchor="middle">0</text>
<text x="449.4" y="1129.0" font-size="55.0" text-anchor="middle">2</text>
<text x="615.7" y="1129.0" font-size="55.0" text-anchor="middle">4</text>
<text x="782.1" y="1129.0" font-size="55.0" text-anchor="middle">6</text>
<text x="948.4" y="1129.0" font-size="55.0" text-anchor="middle">8</text>
<text x="1114.7" y="1129.0" font-size="55.0" text-anchor="middle">10</text>
<text x="1281.0" y="1129.0" font-size="55.0" text-anchor="middle">12</text>
<text x="1447.3" y="1129.0" font-size="55.0" text-anchor="middle">14</text>
<text x="616.5" y="1241.5" font-size="56.0" text-anchor="start" textLength="414.0" lengthAdjust="spacingAndGlyphs">Simulation time/s</text>
<text transform="translate(75,760.5) rotate(-90)" font-size="56" textLength="379" lengthAdjust="spacingAndGlyphs">Yaw rate/dge<tspan font-size="40" dy="-4">·</tspan><tspan dy="4">s</tspan><tspan font-size="36" dy="-19">-1</tspan></text>
<rect x="1125.70" y="30.80" width="427.00" height="316.20" fill="#fff" stroke="#000" stroke-width="1.4"/>
<path d="M1133.70 73.40h140.50" stroke="#008000" stroke-width="6.2" stroke-linecap="round" fill="none"/>
<text x="1287.0" y="93.0" font-size="55.5" text-anchor="start" textLength="242.5" lengthAdjust="spacingAndGlyphs">DOA-RRT</text>
<path d="M1133.70 150.60h140.50" stroke="#000000" stroke-width="6.2" stroke-linecap="round" fill="none"/>
<text x="1287.0" y="170.2" font-size="55.5" text-anchor="start" textLength="227.0" lengthAdjust="spacingAndGlyphs">SOA-APF</text>
<path d="M1133.70 227.60h140.50" stroke="#4264b0" stroke-width="6.2" stroke-linecap="round" fill="none"/>
<text x="1287.0" y="247.2" font-size="55.5" text-anchor="start" textLength="238.0" lengthAdjust="spacingAndGlyphs">DOA-APF</text>
<path d="M1133.70 305.60h140.50" stroke="#f43c50" stroke-width="6.2" stroke-linecap="round" fill="none"/>
<text x="1287.0" y="325.2" font-size="55.5" text-anchor="start" textLength="256.0" lengthAdjust="spacingAndGlyphs">DOA-IAPF</text>
<text x="790.5" y="1393.5" font-size="84" text-anchor="middle" textLength="107" lengthAdjust="spacingAndGlyphs">(<tspan font-weight="bold">b</tspan>)</text>
</g>
<g id="chart-c">
<g fill="none" stroke="#000000" stroke-width="6.00" stroke-linejoin="round" stroke-linecap="round"><path d="M283.9 2037.3C302.6 2037.8 321.3 2038.6 340.0 2039.5C353.3 2040.1 366.7 2041.4 380.0 2041.8C391.3 2042.1 402.7 2042.5 414.0 2042.5C416.0 2042.5 418.0 2041.4 420.0 2040.0C421.6 2038.9 423.3 2035.1 424.9 2031.6C426.9 2027.4 428.8 2020.6 430.8 2014.2C432.4 2008.9 434.1 2003.4 435.7 1996.8C437.4 1990.1 439.0 1982.7 440.7 1973.6C442.3 1964.9 443.9 1953.1 445.5 1941.8C447.0 1931.0 448.6 1919.4 450.1 1907.0C451.5 1895.4 453.0 1881.0 454.4 1869.4C456.3 1853.7 458.3 1841.2 460.2 1825.9C462.0 1811.3 463.9 1794.6 465.7 1779.6C467.4 1765.7 469.1 1753.1 470.8 1739.0C472.5 1725.2 474.1 1708.3 475.8 1695.6C477.7 1681.4 479.5 1664.7 481.4 1657.9C483.3 1650.8 485.3 1646.3 487.2 1643.4C488.9 1640.8 490.7 1637.7 492.4 1637.7C493.9 1637.7 495.5 1638.9 497.0 1640.0C498.6 1641.1 500.1 1642.8 501.7 1646.3C503.1 1649.5 504.6 1660.7 506.0 1672.4C506.8 1679.2 507.7 1687.8 508.5 1701.4C509.1 1710.7 509.6 1731.5 510.2 1744.8C510.9 1760.5 511.5 1776.3 512.2 1788.3C513.2 1805.6 514.1 1817.2 515.1 1831.7C516.1 1846.2 517.0 1860.7 518.0 1875.2C519.0 1889.7 519.9 1904.4 520.9 1918.6C521.9 1933.3 522.9 1949.8 523.9 1962.1C525.3 1979.0 526.6 1991.0 528.0 2005.5C529.4 2020.0 530.7 2031.9 532.1 2049.0C533.1 2061.1 534.0 2074.3 535.0 2092.4C535.5 2102.4 536.1 2121.3 536.6 2130.0C537.7 2148.5 538.9 2157.7 540.0 2170.0C541.3 2184.4 542.7 2197.8 544.0 2210.0C546.1 2229.6 548.3 2249.0 550.4 2263.7C552.7 2279.7 555.1 2296.3 557.4 2304.3C558.9 2309.6 560.5 2313.8 562.0 2316.0C563.6 2318.3 565.3 2320.8 566.9 2320.8C568.6 2320.8 570.3 2319.3 572.0 2318.0C573.8 2316.6 575.7 2314.0 577.5 2311.0C579.5 2307.7 581.5 2301.8 583.5 2297.0C587.0 2288.6 590.5 2280.7 594.0 2271.0C597.0 2262.7 600.0 2253.2 603.0 2243.0C605.6 2234.2 608.2 2223.7 610.8 2214.0C613.3 2204.7 615.8 2194.3 618.3 2186.0C621.2 2176.3 624.1 2168.0 627.0 2160.0C630.0 2151.7 633.0 2144.1 636.0 2137.0C639.0 2129.9 642.0 2122.9 645.0 2117.0C648.7 2109.8 652.3 2103.8 656.0 2098.0C659.7 2092.2 663.3 2086.6 667.0 2082.0C670.0 2078.2 673.0 2073.9 676.0 2072.0C678.3 2070.5 680.5 2069.2 682.8 2068.8C684.7 2068.9 686.6 2070.9 688.5 2073.0C690.0 2074.6 691.5 2078.1 693.0 2082.0C694.5 2085.9 696.0 2091.3 697.5 2099.0C698.7 2105.0 699.8 2117.0 701.0 2125.7C702.8 2139.1 704.6 2152.0 706.4 2164.9C708.0 2176.8 709.6 2187.6 711.2 2200.1C713.3 2216.4 715.5 2236.0 717.6 2253.0C719.5 2268.2 721.4 2281.0 723.3 2297.0C724.9 2310.2 726.4 2326.1 728.0 2340.0C729.7 2354.8 731.3 2369.5 733.0 2383.0C734.9 2398.6 736.9 2414.0 738.8 2427.0C741.3 2443.6 743.7 2458.8 746.2 2471.5C750.1 2475.3 753.9 2479.2 757.8 2483.0C758.9 2490.8 760.1 2499.2 761.2 2508.0C762.6 2518.9 764.0 2530.6 765.4 2543.0C766.3 2540.8 767.3 2527.3 768.2 2513.0C768.8 2504.0 769.4 2481.9 770.0 2470.0C770.8 2453.0 771.7 2442.5 772.5 2427.0C773.5 2409.3 774.4 2388.3 775.4 2369.0C776.4 2349.7 777.3 2330.3 778.3 2311.0C779.3 2291.7 780.2 2272.3 781.2 2253.0C782.2 2233.7 783.1 2218.8 784.1 2195.0C784.9 2175.3 785.7 2137.4 786.5 2119.9C787.3 2101.6 788.2 2090.7 789.0 2077.9C790.0 2063.0 790.9 2051.4 791.9 2037.0C792.9 2022.6 793.8 2006.3 794.8 1991.0C795.8 1975.7 796.7 1959.4 797.7 1945.0C798.7 1930.6 799.6 1918.4 800.6 1904.1C801.5 1890.3 802.5 1874.9 803.4 1860.7C804.4 1846.0 805.3 1830.4 806.3 1817.2C807.5 1801.3 808.6 1787.7 809.8 1773.8C811.1 1758.7 812.3 1743.9 813.6 1730.3C815.0 1714.9 816.5 1698.5 817.9 1686.9C819.3 1675.6 820.7 1662.1 822.1 1658.5C825.4 1649.9 828.8 1644.2 832.1 1644.2C835.4 1647.1 838.7 1653.0 842.0 1659.7C845.1 1666.1 848.3 1676.2 851.4 1686.9C854.6 1697.9 857.8 1713.2 861.0 1727.4C863.9 1740.3 866.8 1753.4 869.7 1768.0C872.2 1780.5 874.6 1795.8 877.1 1808.5C879.9 1822.9 882.7 1837.5 885.5 1849.1C888.5 1861.7 891.6 1871.3 894.6 1882.0C897.4 1891.9 900.2 1901.1 903.0 1911.1C906.2 1922.6 909.4 1936.2 912.6 1946.9C915.8 1957.5 918.9 1967.5 922.1 1975.6C925.3 1983.8 928.5 1991.6 931.7 1997.1C934.9 2002.5 938.0 2007.9 941.2 2010.2C944.4 2012.6 947.6 2015.0 950.8 2015.0C953.2 2015.0 955.6 2013.6 958.0 2011.4C959.6 2010.0 961.1 2001.2 962.7 1994.7C964.3 1988.1 965.9 1979.5 967.5 1970.8C969.1 1962.1 970.7 1951.6 972.3 1942.1C973.9 1932.6 975.5 1923.1 977.1 1913.5C978.3 1906.3 979.5 1899.3 980.7 1891.9C981.4 1887.4 982.2 1883.0 982.9 1878.0C983.9 1871.0 984.9 1862.7 985.9 1854.9C987.8 1839.8 989.8 1823.9 991.7 1808.5C993.6 1793.1 995.6 1778.8 997.5 1762.2C998.7 1752.2 999.8 1738.3 1001.0 1730.0C1002.5 1719.6 1003.9 1710.5 1005.4 1705.1C1008.2 1696.7 1010.9 1688.4 1013.7 1680.0C1019.9 1679.4 1026.1 1678.8 1032.3 1678.2C1033.3 1689.8 1034.2 1702.5 1035.2 1715.9C1036.2 1729.3 1037.1 1744.8 1038.1 1759.3C1039.1 1773.8 1040.0 1788.1 1041.0 1802.8C1041.9 1817.0 1042.9 1832.0 1043.8 1846.2C1044.8 1860.9 1045.7 1875.1 1046.7 1889.6C1047.7 1904.1 1048.6 1918.6 1049.6 1933.1C1050.6 1947.6 1051.5 1962.0 1052.5 1976.5C1053.5 1991.0 1054.4 2005.5 1055.4 2020.0C1056.4 2034.5 1057.3 2048.9 1058.3 2063.4C1059.3 2077.9 1060.2 2094.4 1061.2 2106.9C1062.8 2127.5 1064.4 2143.2 1066.0 2160.0C1067.3 2174.0 1068.7 2187.8 1070.0 2200.0C1072.3 2221.3 1074.7 2242.2 1077.0 2258.0C1079.0 2271.6 1081.0 2285.7 1083.0 2292.7C1085.2 2300.3 1087.3 2309.0 1089.5 2309.0C1092.0 2309.0 1094.5 2305.7 1097.0 2303.0C1099.7 2300.1 1102.3 2295.3 1105.0 2289.9C1108.6 2282.5 1112.3 2270.1 1115.9 2259.8C1119.8 2248.8 1123.6 2237.0 1127.5 2225.9C1131.9 2213.2 1136.4 2200.1 1140.8 2188.3C1145.9 2174.7 1151.0 2162.1 1156.1 2150.0C1158.8 2143.5 1161.6 2137.6 1164.3 2131.4C1167.1 2125.1 1169.8 2118.2 1172.6 2112.3C1175.4 2106.3 1178.2 2100.3 1181.0 2095.6C1183.7 2091.0 1186.4 2087.4 1189.1 2083.6C1191.5 2080.3 1193.9 2077.1 1196.3 2074.1C1198.7 2071.1 1201.1 2068.1 1203.5 2065.7C1205.9 2063.4 1208.2 2061.4 1210.6 2059.7C1213.0 2057.9 1215.4 2056.5 1217.8 2055.0C1220.2 2053.5 1222.6 2051.9 1225.0 2050.7C1228.2 2049.1 1231.3 2047.7 1234.5 2046.6C1237.7 2045.5 1240.9 2044.5 1244.1 2043.7C1247.3 2042.9 1250.4 2042.2 1253.6 2041.8C1259.1 2041.0 1264.6 2040.5 1270.1 2040.1C1275.5 2039.7 1281.0 2039.4 1286.4 2039.2C1295.9 2038.9 1305.5 2038.5 1315.0 2038.5" transform="translate(0,-0.5)"/><path d="M283.9 2037.3C302.6 2037.8 321.3 2038.6 340.0 2039.5C353.3 2040.1 366.7 2041.4 380.0 2041.8C391.3 2042.1 402.7 2042.5 414.0 2042.5C416.0 2042.5 418.0 2041.4 420.0 2040.0C421.6 2038.9 423.3 2035.1 424.9 2031.6C426.9 2027.4 428.8 2020.6 430.8 2014.2C432.4 2008.9 434.1 2003.4 435.7 1996.8C437.4 1990.1 439.0 1982.7 440.7 1973.6C442.3 1964.9 443.9 1953.1 445.5 1941.8C447.0 1931.0 448.6 1919.4 450.1 1907.0C451.5 1895.4 453.0 1881.0 454.4 1869.4C456.3 1853.7 458.3 1841.2 460.2 1825.9C462.0 1811.3 463.9 1794.6 465.7 1779.6C467.4 1765.7 469.1 1753.1 470.8 1739.0C472.5 1725.2 474.1 1708.3 475.8 1695.6C477.7 1681.4 479.5 1664.7 481.4 1657.9C483.3 1650.8 485.3 1646.3 487.2 1643.4C488.9 1640.8 490.7 1637.7 492.4 1637.7C493.9 1637.7 495.5 1638.9 497.0 1640.0C498.6 1641.1 500.1 1642.8 501.7 1646.3C503.1 1649.5 504.6 1660.7 506.0 1672.4C506.8 1679.2 507.7 1687.8 508.5 1701.4C509.1 1710.7 509.6 1731.5 510.2 1744.8C510.9 1760.5 511.5 1776.3 512.2 1788.3C513.2 1805.6 514.1 1817.2 515.1 1831.7C516.1 1846.2 517.0 1860.7 518.0 1875.2C519.0 1889.7 519.9 1904.4 520.9 1918.6C521.9 1933.3 522.9 1949.8 523.9 1962.1C525.3 1979.0 526.6 1991.0 528.0 2005.5C529.4 2020.0 530.7 2031.9 532.1 2049.0C533.1 2061.1 534.0 2074.3 535.0 2092.4C535.5 2102.4 536.1 2121.3 536.6 2130.0C537.7 2148.5 538.9 2157.7 540.0 2170.0C541.3 2184.4 542.7 2197.8 544.0 2210.0C546.1 2229.6 548.3 2249.0 550.4 2263.7C552.7 2279.7 555.1 2296.3 557.4 2304.3C558.9 2309.6 560.5 2313.8 562.0 2316.0C563.6 2318.3 565.3 2320.8 566.9 2320.8C568.6 2320.8 570.3 2319.3 572.0 2318.0C573.8 2316.6 575.7 2314.0 577.5 2311.0C579.5 2307.7 581.5 2301.8 583.5 2297.0C587.0 2288.6 590.5 2280.7 594.0 2271.0C597.0 2262.7 600.0 2253.2 603.0 2243.0C605.6 2234.2 608.2 2223.7 610.8 2214.0C613.3 2204.7 615.8 2194.3 618.3 2186.0C621.2 2176.3 624.1 2168.0 627.0 2160.0C630.0 2151.7 633.0 2144.1 636.0 2137.0C639.0 2129.9 642.0 2122.9 645.0 2117.0C648.7 2109.8 652.3 2103.8 656.0 2098.0C659.7 2092.2 663.3 2086.6 667.0 2082.0C670.0 2078.2 673.0 2073.9 676.0 2072.0C678.3 2070.5 680.5 2069.2 682.8 2068.8C684.7 2068.9 686.6 2070.9 688.5 2073.0C690.0 2074.6 691.5 2078.1 693.0 2082.0C694.5 2085.9 696.0 2091.3 697.5 2099.0C698.7 2105.0 699.8 2117.0 701.0 2125.7C702.8 2139.1 704.6 2152.0 706.4 2164.9C708.0 2176.8 709.6 2187.6 711.2 2200.1C713.3 2216.4 715.5 2236.0 717.6 2253.0C719.5 2268.2 721.4 2281.0 723.3 2297.0C724.9 2310.2 726.4 2326.1 728.0 2340.0C729.7 2354.8 731.3 2369.5 733.0 2383.0C734.9 2398.6 736.9 2414.0 738.8 2427.0C741.3 2443.6 743.7 2458.8 746.2 2471.5C750.1 2475.3 753.9 2479.2 757.8 2483.0C758.9 2490.8 760.1 2499.2 761.2 2508.0C762.6 2518.9 764.0 2530.6 765.4 2543.0C766.3 2540.8 767.3 2527.3 768.2 2513.0C768.8 2504.0 769.4 2481.9 770.0 2470.0C770.8 2453.0 771.7 2442.5 772.5 2427.0C773.5 2409.3 774.4 2388.3 775.4 2369.0C776.4 2349.7 777.3 2330.3 778.3 2311.0C779.3 2291.7 780.2 2272.3 781.2 2253.0C782.2 2233.7 783.1 2218.8 784.1 2195.0C784.9 2175.3 785.7 2137.4 786.5 2119.9C787.3 2101.6 788.2 2090.7 789.0 2077.9C790.0 2063.0 790.9 2051.4 791.9 2037.0C792.9 2022.6 793.8 2006.3 794.8 1991.0C795.8 1975.7 796.7 1959.4 797.7 1945.0C798.7 1930.6 799.6 1918.4 800.6 1904.1C801.5 1890.3 802.5 1874.9 803.4 1860.7C804.4 1846.0 805.3 1830.4 806.3 1817.2C807.5 1801.3 808.6 1787.7 809.8 1773.8C811.1 1758.7 812.3 1743.9 813.6 1730.3C815.0 1714.9 816.5 1698.5 817.9 1686.9C819.3 1675.6 820.7 1662.1 822.1 1658.5C825.4 1649.9 828.8 1644.2 832.1 1644.2C835.4 1647.1 838.7 1653.0 842.0 1659.7C845.1 1666.1 848.3 1676.2 851.4 1686.9C854.6 1697.9 857.8 1713.2 861.0 1727.4C863.9 1740.3 866.8 1753.4 869.7 1768.0C872.2 1780.5 874.6 1795.8 877.1 1808.5C879.9 1822.9 882.7 1837.5 885.5 1849.1C888.5 1861.7 891.6 1871.3 894.6 1882.0C897.4 1891.9 900.2 1901.1 903.0 1911.1C906.2 1922.6 909.4 1936.2 912.6 1946.9C915.8 1957.5 918.9 1967.5 922.1 1975.6C925.3 1983.8 928.5 1991.6 931.7 1997.1C934.9 2002.5 938.0 2007.9 941.2 2010.2C944.4 2012.6 947.6 2015.0 950.8 2015.0C953.2 2015.0 955.6 2013.6 958.0 2011.4C959.6 2010.0 961.1 2001.2 962.7 1994.7C964.3 1988.1 965.9 1979.5 967.5 1970.8C969.1 1962.1 970.7 1951.6 972.3 1942.1C973.9 1932.6 975.5 1923.1 977.1 1913.5C978.3 1906.3 979.5 1899.3 980.7 1891.9C981.4 1887.4 982.2 1883.0 982.9 1878.0C983.9 1871.0 984.9 1862.7 985.9 1854.9C987.8 1839.8 989.8 1823.9 991.7 1808.5C993.6 1793.1 995.6 1778.8 997.5 1762.2C998.7 1752.2 999.8 1738.3 1001.0 1730.0C1002.5 1719.6 1003.9 1710.5 1005.4 1705.1C1008.2 1696.7 1010.9 1688.4 1013.7 1680.0C1019.9 1679.4 1026.1 1678.8 1032.3 1678.2C1033.3 1689.8 1034.2 1702.5 1035.2 1715.9C1036.2 1729.3 1037.1 1744.8 1038.1 1759.3C1039.1 1773.8 1040.0 1788.1 1041.0 1802.8C1041.9 1817.0 1042.9 1832.0 1043.8 1846.2C1044.8 1860.9 1045.7 1875.1 1046.7 1889.6C1047.7 1904.1 1048.6 1918.6 1049.6 1933.1C1050.6 1947.6 1051.5 1962.0 1052.5 1976.5C1053.5 1991.0 1054.4 2005.5 1055.4 2020.0C1056.4 2034.5 1057.3 2048.9 1058.3 2063.4C1059.3 2077.9 1060.2 2094.4 1061.2 2106.9C1062.8 2127.5 1064.4 2143.2 1066.0 2160.0C1067.3 2174.0 1068.7 2187.8 1070.0 2200.0C1072.3 2221.3 1074.7 2242.2 1077.0 2258.0C1079.0 2271.6 1081.0 2285.7 1083.0 2292.7C1085.2 2300.3 1087.3 2309.0 1089.5 2309.0C1092.0 2309.0 1094.5 2305.7 1097.0 2303.0C1099.7 2300.1 1102.3 2295.3 1105.0 2289.9C1108.6 2282.5 1112.3 2270.1 1115.9 2259.8C1119.8 2248.8 1123.6 2237.0 1127.5 2225.9C1131.9 2213.2 1136.4 2200.1 1140.8 2188.3C1145.9 2174.7 1151.0 2162.1 1156.1 2150.0C1158.8 2143.5 1161.6 2137.6 1164.3 2131.4C1167.1 2125.1 1169.8 2118.2 1172.6 2112.3C1175.4 2106.3 1178.2 2100.3 1181.0 2095.6C1183.7 2091.0 1186.4 2087.4 1189.1 2083.6C1191.5 2080.3 1193.9 2077.1 1196.3 2074.1C1198.7 2071.1 1201.1 2068.1 1203.5 2065.7C1205.9 2063.4 1208.2 2061.4 1210.6 2059.7C1213.0 2057.9 1215.4 2056.5 1217.8 2055.0C1220.2 2053.5 1222.6 2051.9 1225.0 2050.7C1228.2 2049.1 1231.3 2047.7 1234.5 2046.6C1237.7 2045.5 1240.9 2044.5 1244.1 2043.7C1247.3 2042.9 1250.4 2042.2 1253.6 2041.8C1259.1 2041.0 1264.6 2040.5 1270.1 2040.1C1275.5 2039.7 1281.0 2039.4 1286.4 2039.2C1295.9 2038.9 1305.5 2038.5 1315.0 2038.5" transform="translate(0,0.5)"/></g>
<g fill="none" stroke="#4264b0" stroke-width="6.00" stroke-linejoin="round" stroke-linecap="round"><path d="M284.5 2037.5C316.5 2037.5 348.6 2037.5 380.6 2037.5C396.8 2037.5 413.1 2037.6 429.3 2038.0C437.1 2038.2 444.8 2039.8 452.6 2042.0C457.3 2043.3 461.9 2047.0 466.6 2051.0C471.6 2055.3 476.6 2062.1 481.6 2071.0C484.5 2076.2 487.5 2085.5 490.4 2093.0C494.1 2102.5 497.9 2112.5 501.6 2122.0C505.6 2132.2 509.6 2143.2 513.6 2152.0C517.0 2159.4 520.4 2166.5 523.8 2172.0C526.4 2176.3 529.1 2181.5 531.7 2183.0C533.8 2184.2 536.0 2185.3 538.1 2185.3C539.9 2185.3 541.8 2183.9 543.6 2182.5C545.4 2181.1 547.3 2178.1 549.1 2175.0C550.9 2171.9 552.8 2167.6 554.6 2163.0C556.4 2158.4 558.3 2152.8 560.1 2147.0C561.9 2141.2 563.8 2134.8 565.6 2128.0C567.4 2121.2 569.3 2113.5 571.1 2106.0C572.9 2098.5 574.8 2090.7 576.6 2083.0C578.4 2075.3 580.3 2067.5 582.1 2059.5C583.6 2053.1 585.0 2046.4 586.5 2040.0C589.7 2026.3 592.8 2012.2 596.0 2000.0C598.0 1992.3 600.0 1984.6 602.0 1978.5C604.3 1971.4 606.7 1965.9 609.0 1960.0C611.1 1954.7 613.2 1949.2 615.3 1944.9C617.2 1940.9 619.2 1937.0 621.1 1934.5C623.4 1931.5 625.8 1928.7 628.1 1927.5C630.4 1926.3 632.7 1925.4 635.0 1925.0C637.0 1924.7 639.0 1924.3 641.0 1924.3C643.5 1924.3 646.0 1924.8 648.5 1925.3C651.0 1925.8 653.4 1926.5 655.9 1927.5C659.7 1929.1 663.6 1932.3 667.4 1935.6C671.3 1938.9 675.1 1944.2 679.0 1948.4C682.9 1952.6 686.7 1956.8 690.6 1961.1C693.7 1964.5 696.9 1968.1 700.0 1971.5C702.2 1973.8 704.3 1976.0 706.5 1978.3C709.8 1981.8 713.2 1985.7 716.5 1988.7C720.1 1991.9 723.7 1994.5 727.3 1997.1C731.3 2000.0 735.2 2002.8 739.2 2005.4C743.2 2008.0 747.2 2010.4 751.2 2012.6C755.2 2014.8 759.1 2016.8 763.1 2018.6C767.1 2020.4 771.1 2022.0 775.1 2023.4C779.1 2024.8 783.0 2026.1 787.0 2027.0C791.0 2027.9 794.9 2028.8 798.9 2029.3C802.9 2029.8 806.9 2030.5 810.9 2030.5C814.1 2030.5 817.3 2029.4 820.5 2028.1C822.9 2027.1 825.2 2024.2 827.6 2021.0C830.0 2017.8 832.4 2012.6 834.8 2006.6C837.2 2000.6 839.6 1992.5 842.0 1982.7C843.6 1976.3 845.1 1967.1 846.7 1958.9C848.3 1950.5 849.9 1940.9 851.5 1932.6C853.1 1924.3 854.7 1916.2 856.3 1908.7C857.9 1901.2 859.5 1894.9 861.1 1887.2C864.1 1872.8 867.1 1856.2 870.1 1840.0C872.0 1829.6 874.0 1815.8 875.9 1808.0C877.8 1800.2 879.8 1794.1 881.7 1789.5C883.6 1785.0 885.5 1780.7 887.4 1778.6C888.9 1777.0 890.3 1775.2 891.8 1775.2C893.7 1775.2 895.7 1776.2 897.6 1777.3C899.0 1778.1 900.5 1780.0 901.9 1782.5C903.8 1785.9 905.8 1793.8 907.7 1802.8C909.2 1809.6 910.6 1819.3 912.1 1831.7C913.5 1843.3 914.8 1865.1 916.2 1880.0C917.4 1892.8 918.5 1904.6 919.7 1915.8C921.3 1931.2 922.9 1945.0 924.5 1958.9C926.1 1972.8 927.7 1985.6 929.3 1999.5C930.9 2013.4 932.5 2028.6 934.1 2042.5C935.7 2056.4 937.3 2070.3 938.9 2083.1C940.5 2095.7 942.0 2108.0 943.6 2119.0C945.2 2130.2 946.8 2140.5 948.4 2150.0C950.0 2159.5 951.6 2168.4 953.2 2176.3C954.8 2184.2 956.4 2191.9 958.0 2197.8C960.4 2206.5 962.7 2214.0 965.1 2219.3C968.3 2226.5 971.5 2234.0 974.7 2236.0C977.9 2238.0 981.1 2239.6 984.3 2239.6C987.5 2239.6 990.6 2237.8 993.8 2236.0C997.0 2234.1 1000.2 2228.8 1003.4 2224.1C1007.4 2218.3 1011.3 2210.1 1015.3 2202.6C1019.3 2195.0 1023.3 2186.7 1027.3 2178.7C1031.3 2170.8 1035.2 2162.7 1039.2 2154.8C1043.2 2146.8 1047.2 2138.1 1051.2 2130.9C1055.5 2123.1 1059.9 2115.5 1064.2 2109.4C1068.7 2103.0 1073.2 2097.9 1077.7 2092.7C1082.1 2087.6 1086.6 2082.9 1091.0 2078.3C1095.0 2074.2 1098.9 2069.7 1102.9 2066.4C1106.9 2063.1 1110.9 2060.6 1114.9 2058.0C1118.9 2055.4 1122.8 2052.8 1126.8 2050.9C1130.8 2049.0 1134.8 2047.5 1138.8 2046.1C1142.2 2044.9 1145.7 2043.7 1149.1 2043.0C1152.6 2042.3 1156.0 2041.8 1159.5 2041.3C1163.2 2040.8 1166.9 2040.4 1170.6 2040.1C1177.1 2039.6 1183.5 2039.1 1190.0 2038.9C1205.5 2038.4 1221.0 2037.9 1236.5 2037.9C1290.3 2037.9 1344.2 2037.9 1398.0 2037.9" transform="translate(0,-0.5)"/><path d="M284.5 2037.5C316.5 2037.5 348.6 2037.5 380.6 2037.5C396.8 2037.5 413.1 2037.6 429.3 2038.0C437.1 2038.2 444.8 2039.8 452.6 2042.0C457.3 2043.3 461.9 2047.0 466.6 2051.0C471.6 2055.3 476.6 2062.1 481.6 2071.0C484.5 2076.2 487.5 2085.5 490.4 2093.0C494.1 2102.5 497.9 2112.5 501.6 2122.0C505.6 2132.2 509.6 2143.2 513.6 2152.0C517.0 2159.4 520.4 2166.5 523.8 2172.0C526.4 2176.3 529.1 2181.5 531.7 2183.0C533.8 2184.2 536.0 2185.3 538.1 2185.3C539.9 2185.3 541.8 2183.9 543.6 2182.5C545.4 2181.1 547.3 2178.1 549.1 2175.0C550.9 2171.9 552.8 2167.6 554.6 2163.0C556.4 2158.4 558.3 2152.8 560.1 2147.0C561.9 2141.2 563.8 2134.8 565.6 2128.0C567.4 2121.2 569.3 2113.5 571.1 2106.0C572.9 2098.5 574.8 2090.7 576.6 2083.0C578.4 2075.3 580.3 2067.5 582.1 2059.5C583.6 2053.1 585.0 2046.4 586.5 2040.0C589.7 2026.3 592.8 2012.2 596.0 2000.0C598.0 1992.3 600.0 1984.6 602.0 1978.5C604.3 1971.4 606.7 1965.9 609.0 1960.0C611.1 1954.7 613.2 1949.2 615.3 1944.9C617.2 1940.9 619.2 1937.0 621.1 1934.5C623.4 1931.5 625.8 1928.7 628.1 1927.5C630.4 1926.3 632.7 1925.4 635.0 1925.0C637.0 1924.7 639.0 1924.3 641.0 1924.3C643.5 1924.3 646.0 1924.8 648.5 1925.3C651.0 1925.8 653.4 1926.5 655.9 1927.5C659.7 1929.1 663.6 1932.3 667.4 1935.6C671.3 1938.9 675.1 1944.2 679.0 1948.4C682.9 1952.6 686.7 1956.8 690.6 1961.1C693.7 1964.5 696.9 1968.1 700.0 1971.5C702.2 1973.8 704.3 1976.0 706.5 1978.3C709.8 1981.8 713.2 1985.7 716.5 1988.7C720.1 1991.9 723.7 1994.5 727.3 1997.1C731.3 2000.0 735.2 2002.8 739.2 2005.4C743.2 2008.0 747.2 2010.4 751.2 2012.6C755.2 2014.8 759.1 2016.8 763.1 2018.6C767.1 2020.4 771.1 2022.0 775.1 2023.4C779.1 2024.8 783.0 2026.1 787.0 2027.0C791.0 2027.9 794.9 2028.8 798.9 2029.3C802.9 2029.8 806.9 2030.5 810.9 2030.5C814.1 2030.5 817.3 2029.4 820.5 2028.1C822.9 2027.1 825.2 2024.2 827.6 2021.0C830.0 2017.8 832.4 2012.6 834.8 2006.6C837.2 2000.6 839.6 1992.5 842.0 1982.7C843.6 1976.3 845.1 1967.1 846.7 1958.9C848.3 1950.5 849.9 1940.9 851.5 1932.6C853.1 1924.3 854.7 1916.2 856.3 1908.7C857.9 1901.2 859.5 1894.9 861.1 1887.2C864.1 1872.8 867.1 1856.2 870.1 1840.0C872.0 1829.6 874.0 1815.8 875.9 1808.0C877.8 1800.2 879.8 1794.1 881.7 1789.5C883.6 1785.0 885.5 1780.7 887.4 1778.6C888.9 1777.0 890.3 1775.2 891.8 1775.2C893.7 1775.2 895.7 1776.2 897.6 1777.3C899.0 1778.1 900.5 1780.0 901.9 1782.5C903.8 1785.9 905.8 1793.8 907.7 1802.8C909.2 1809.6 910.6 1819.3 912.1 1831.7C913.5 1843.3 914.8 1865.1 916.2 1880.0C917.4 1892.8 918.5 1904.6 919.7 1915.8C921.3 1931.2 922.9 1945.0 924.5 1958.9C926.1 1972.8 927.7 1985.6 929.3 1999.5C930.9 2013.4 932.5 2028.6 934.1 2042.5C935.7 2056.4 937.3 2070.3 938.9 2083.1C940.5 2095.7 942.0 2108.0 943.6 2119.0C945.2 2130.2 946.8 2140.5 948.4 2150.0C950.0 2159.5 951.6 2168.4 953.2 2176.3C954.8 2184.2 956.4 2191.9 958.0 2197.8C960.4 2206.5 962.7 2214.0 965.1 2219.3C968.3 2226.5 971.5 2234.0 974.7 2236.0C977.9 2238.0 981.1 2239.6 984.3 2239.6C987.5 2239.6 990.6 2237.8 993.8 2236.0C997.0 2234.1 1000.2 2228.8 1003.4 2224.1C1007.4 2218.3 1011.3 2210.1 1015.3 2202.6C1019.3 2195.0 1023.3 2186.7 1027.3 2178.7C1031.3 2170.8 1035.2 2162.7 1039.2 2154.8C1043.2 2146.8 1047.2 2138.1 1051.2 2130.9C1055.5 2123.1 1059.9 2115.5 1064.2 2109.4C1068.7 2103.0 1073.2 2097.9 1077.7 2092.7C1082.1 2087.6 1086.6 2082.9 1091.0 2078.3C1095.0 2074.2 1098.9 2069.7 1102.9 2066.4C1106.9 2063.1 1110.9 2060.6 1114.9 2058.0C1118.9 2055.4 1122.8 2052.8 1126.8 2050.9C1130.8 2049.0 1134.8 2047.5 1138.8 2046.1C1142.2 2044.9 1145.7 2043.7 1149.1 2043.0C1152.6 2042.3 1156.0 2041.8 1159.5 2041.3C1163.2 2040.8 1166.9 2040.4 1170.6 2040.1C1177.1 2039.6 1183.5 2039.1 1190.0 2038.9C1205.5 2038.4 1221.0 2037.9 1236.5 2037.9C1290.3 2037.9 1344.2 2037.9 1398.0 2037.9" transform="translate(0,0.5)"/></g>
<g fill="none" stroke="#f43c50" stroke-width="6.00" stroke-linejoin="round" stroke-linecap="round"><path d="M283.9 2037.5C295.9 2037.5 308.0 2037.5 320.0 2037.5C327.3 2037.5 334.5 2037.7 341.8 2038.0C349.5 2038.3 357.3 2043.1 365.0 2047.5C374.7 2053.0 384.3 2066.0 394.0 2076.5C403.7 2087.0 413.3 2101.9 423.0 2111.0C430.7 2118.2 438.3 2125.4 446.0 2129.2C453.3 2132.9 460.7 2137.3 468.0 2137.3C476.2 2137.3 484.3 2132.7 492.5 2128.6C502.1 2123.7 511.8 2111.7 521.4 2102.5C531.1 2093.3 540.7 2083.2 550.4 2073.1C560.1 2063.0 569.7 2053.4 579.4 2041.6C589.0 2029.8 598.7 2014.5 608.3 2001.0C618.0 1987.5 627.6 1970.8 637.3 1960.5C645.0 1952.2 652.8 1944.3 660.5 1940.2C667.3 1936.7 674.0 1932.5 680.8 1932.5C689.5 1932.5 698.1 1938.4 706.8 1943.7C716.5 1949.6 726.1 1965.3 735.8 1975.0C743.9 1983.1 751.9 1991.0 760.0 1997.9C764.8 2002.1 769.7 2006.3 774.5 2009.5C779.3 2012.7 784.2 2015.2 789.0 2017.5C793.8 2019.7 798.6 2021.7 803.4 2023.3C808.2 2025.0 813.1 2026.3 817.9 2027.6C822.7 2028.9 827.6 2030.4 832.4 2031.2C837.2 2032.0 842.1 2033.0 846.9 2033.0C851.3 2033.0 855.6 2033.0 860.0 2032.9C864.0 2032.8 867.9 2032.3 871.9 2031.7C875.9 2031.1 879.9 2029.0 883.9 2027.0C888.3 2024.8 892.7 2021.1 897.1 2017.4C901.5 2013.7 905.9 2009.1 910.3 2004.3C914.3 2000.0 918.2 1995.0 922.2 1989.9C925.7 1985.4 929.2 1980.3 932.7 1975.6C936.3 1970.7 940.0 1965.3 943.6 1961.2C947.6 1956.7 951.6 1952.6 955.6 1949.3C959.6 1946.0 963.5 1942.9 967.5 1940.9C971.5 1938.9 975.5 1937.1 979.5 1936.2C983.1 1935.4 986.6 1934.6 990.2 1934.6C995.5 1934.6 1000.9 1936.7 1006.2 1938.9C1011.0 1940.9 1015.9 1946.2 1020.7 1950.5C1025.5 1954.8 1030.4 1960.2 1035.2 1965.0C1040.0 1969.8 1044.8 1974.8 1049.6 1979.4C1054.4 1984.0 1059.3 1988.2 1064.1 1992.5C1068.9 1996.8 1073.8 2000.9 1078.6 2005.5C1083.4 2010.1 1088.3 2014.7 1093.1 2020.0C1097.9 2025.3 1102.8 2031.2 1107.6 2037.4C1112.4 2043.6 1117.3 2050.8 1122.1 2057.6C1126.9 2064.3 1131.7 2071.2 1136.5 2077.9C1141.3 2084.7 1146.2 2091.8 1151.0 2098.2C1154.4 2102.7 1157.8 2107.5 1161.2 2111.2C1165.8 2116.2 1170.4 2120.8 1175.0 2124.0C1180.0 2127.5 1185.0 2130.7 1190.0 2132.5C1194.3 2134.1 1198.7 2136.0 1203.0 2136.0C1205.7 2136.0 1208.3 2135.5 1211.0 2135.0C1213.8 2134.5 1216.7 2133.7 1219.5 2132.6C1223.5 2131.1 1227.4 2128.1 1231.4 2125.2C1235.4 2122.3 1239.4 2118.4 1243.4 2114.4C1247.4 2110.5 1251.3 2105.5 1255.3 2101.3C1259.3 2097.0 1263.3 2092.9 1267.3 2088.8C1271.3 2084.8 1275.2 2080.4 1279.2 2076.9C1283.2 2073.3 1287.2 2070.0 1291.2 2067.3C1295.2 2064.6 1299.1 2062.4 1303.1 2060.2C1307.1 2058.0 1311.1 2055.9 1315.1 2054.2C1319.1 2052.5 1323.0 2051.1 1327.0 2049.9C1331.0 2048.7 1334.9 2048.0 1338.9 2047.0C1342.9 2046.0 1346.9 2044.9 1350.9 2044.0C1354.9 2043.1 1358.8 2042.2 1362.8 2041.4C1366.8 2040.6 1370.8 2039.9 1374.8 2039.4C1378.8 2038.9 1382.7 2038.5 1386.7 2038.3C1390.3 2038.1 1393.9 2038.0 1397.5 2038.0" transform="translate(0,-0.5)"/><path d="M283.9 2037.5C295.9 2037.5 308.0 2037.5 320.0 2037.5C327.3 2037.5 334.5 2037.7 341.8 2038.0C349.5 2038.3 357.3 2043.1 365.0 2047.5C374.7 2053.0 384.3 2066.0 394.0 2076.5C403.7 2087.0 413.3 2101.9 423.0 2111.0C430.7 2118.2 438.3 2125.4 446.0 2129.2C453.3 2132.9 460.7 2137.3 468.0 2137.3C476.2 2137.3 484.3 2132.7 492.5 2128.6C502.1 2123.7 511.8 2111.7 521.4 2102.5C531.1 2093.3 540.7 2083.2 550.4 2073.1C560.1 2063.0 569.7 2053.4 579.4 2041.6C589.0 2029.8 598.7 2014.5 608.3 2001.0C618.0 1987.5 627.6 1970.8 637.3 1960.5C645.0 1952.2 652.8 1944.3 660.5 1940.2C667.3 1936.7 674.0 1932.5 680.8 1932.5C689.5 1932.5 698.1 1938.4 706.8 1943.7C716.5 1949.6 726.1 1965.3 735.8 1975.0C743.9 1983.1 751.9 1991.0 760.0 1997.9C764.8 2002.1 769.7 2006.3 774.5 2009.5C779.3 2012.7 784.2 2015.2 789.0 2017.5C793.8 2019.7 798.6 2021.7 803.4 2023.3C808.2 2025.0 813.1 2026.3 817.9 2027.6C822.7 2028.9 827.6 2030.4 832.4 2031.2C837.2 2032.0 842.1 2033.0 846.9 2033.0C851.3 2033.0 855.6 2033.0 860.0 2032.9C864.0 2032.8 867.9 2032.3 871.9 2031.7C875.9 2031.1 879.9 2029.0 883.9 2027.0C888.3 2024.8 892.7 2021.1 897.1 2017.4C901.5 2013.7 905.9 2009.1 910.3 2004.3C914.3 2000.0 918.2 1995.0 922.2 1989.9C925.7 1985.4 929.2 1980.3 932.7 1975.6C936.3 1970.7 940.0 1965.3 943.6 1961.2C947.6 1956.7 951.6 1952.6 955.6 1949.3C959.6 1946.0 963.5 1942.9 967.5 1940.9C971.5 1938.9 975.5 1937.1 979.5 1936.2C983.1 1935.4 986.6 1934.6 990.2 1934.6C995.5 1934.6 1000.9 1936.7 1006.2 1938.9C1011.0 1940.9 1015.9 1946.2 1020.7 1950.5C1025.5 1954.8 1030.4 1960.2 1035.2 1965.0C1040.0 1969.8 1044.8 1974.8 1049.6 1979.4C1054.4 1984.0 1059.3 1988.2 1064.1 1992.5C1068.9 1996.8 1073.8 2000.9 1078.6 2005.5C1083.4 2010.1 1088.3 2014.7 1093.1 2020.0C1097.9 2025.3 1102.8 2031.2 1107.6 2037.4C1112.4 2043.6 1117.3 2050.8 1122.1 2057.6C1126.9 2064.3 1131.7 2071.2 1136.5 2077.9C1141.3 2084.7 1146.2 2091.8 1151.0 2098.2C1154.4 2102.7 1157.8 2107.5 1161.2 2111.2C1165.8 2116.2 1170.4 2120.8 1175.0 2124.0C1180.0 2127.5 1185.0 2130.7 1190.0 2132.5C1194.3 2134.1 1198.7 2136.0 1203.0 2136.0C1205.7 2136.0 1208.3 2135.5 1211.0 2135.0C1213.8 2134.5 1216.7 2133.7 1219.5 2132.6C1223.5 2131.1 1227.4 2128.1 1231.4 2125.2C1235.4 2122.3 1239.4 2118.4 1243.4 2114.4C1247.4 2110.5 1251.3 2105.5 1255.3 2101.3C1259.3 2097.0 1263.3 2092.9 1267.3 2088.8C1271.3 2084.8 1275.2 2080.4 1279.2 2076.9C1283.2 2073.3 1287.2 2070.0 1291.2 2067.3C1295.2 2064.6 1299.1 2062.4 1303.1 2060.2C1307.1 2058.0 1311.1 2055.9 1315.1 2054.2C1319.1 2052.5 1323.0 2051.1 1327.0 2049.9C1331.0 2048.7 1334.9 2048.0 1338.9 2047.0C1342.9 2046.0 1346.9 2044.9 1350.9 2044.0C1354.9 2043.1 1358.8 2042.2 1362.8 2041.4C1366.8 2040.6 1370.8 2039.9 1374.8 2039.4C1378.8 2038.9 1382.7 2038.5 1386.7 2038.3C1390.3 2038.1 1393.9 2038.0 1397.5 2038.0" transform="translate(0,0.5)"/></g>
<g fill="none" stroke="#008000" stroke-width="6.00" stroke-linejoin="round" stroke-linecap="round"><path d="M283.9 2037.5C315.9 2037.5 348.0 2037.5 380.0 2037.5C396.2 2037.5 412.5 2037.6 428.7 2038.0C436.5 2038.2 444.2 2039.8 452.0 2042.0C456.7 2043.3 461.3 2047.0 466.0 2051.0C471.0 2055.3 476.0 2062.1 481.0 2071.0C483.9 2076.2 486.9 2085.5 489.8 2093.0C493.5 2102.5 497.3 2112.5 501.0 2122.0C505.0 2132.2 509.0 2143.2 513.0 2152.0C516.4 2159.4 519.8 2166.5 523.2 2172.0C525.8 2176.3 528.5 2181.5 531.1 2183.0C533.2 2184.2 535.4 2185.3 537.5 2185.3C539.3 2185.3 541.2 2183.9 543.0 2182.5C544.8 2181.1 546.7 2178.1 548.5 2175.0C550.3 2171.9 552.2 2167.6 554.0 2163.0C555.8 2158.4 557.7 2152.8 559.5 2147.0C561.3 2141.2 563.2 2134.8 565.0 2128.0C566.8 2121.2 568.7 2113.5 570.5 2106.0C572.3 2098.5 574.2 2090.7 576.0 2083.0C577.8 2075.3 579.7 2067.5 581.5 2059.5C583.0 2053.1 584.4 2046.6 585.9 2040.0C588.8 2026.9 591.8 2012.8 594.7 2000.0C597.9 1986.1 601.1 1973.3 604.3 1960.0C607.5 1946.6 610.8 1933.1 614.0 1920.0C617.3 1906.5 620.7 1892.7 624.0 1880.0C628.1 1864.2 632.3 1851.5 636.4 1835.0C638.8 1825.3 641.3 1812.7 643.7 1803.0C646.1 1793.6 648.4 1785.0 650.8 1777.0C652.9 1769.8 655.1 1761.7 657.2 1757.0C659.4 1752.0 661.7 1747.5 663.9 1745.5C665.4 1744.1 667.0 1743.0 668.5 1742.6C669.9 1742.2 671.3 1741.9 672.7 1741.9C674.5 1741.9 676.2 1743.4 678.0 1745.0C679.9 1746.7 681.8 1750.6 683.7 1756.0C685.8 1761.9 687.9 1777.9 690.0 1790.0C691.9 1800.7 693.7 1813.3 695.6 1824.3C698.9 1843.7 702.2 1860.6 705.4 1880.1C706.7 1887.7 708.0 1895.7 709.3 1903.9C710.5 1911.6 711.7 1919.9 712.9 1927.8C714.5 1938.3 716.1 1949.0 717.7 1958.9C719.3 1968.8 720.9 1978.0 722.5 1987.5C724.1 1997.0 725.7 2007.0 727.3 2016.2C728.9 2025.3 730.4 2034.4 732.0 2042.5C734.0 2052.8 736.0 2062.5 738.0 2071.2C740.0 2079.9 742.0 2088.7 744.0 2095.1C746.4 2102.8 748.8 2109.9 751.2 2114.2C753.6 2118.4 755.9 2122.3 758.3 2123.7C761.5 2125.6 764.7 2127.3 767.9 2127.3C771.9 2127.3 775.8 2125.4 779.8 2123.7C783.8 2122.0 787.8 2117.4 791.8 2114.2C795.8 2111.0 799.7 2108.1 803.7 2104.6C807.7 2101.0 811.7 2096.7 815.7 2092.7C819.7 2088.7 823.6 2084.2 827.6 2080.7C831.6 2077.2 835.6 2074.2 839.6 2071.2C843.6 2068.2 847.5 2065.0 851.5 2062.8C854.5 2061.1 857.5 2060.0 860.5 2058.6C864.3 2056.9 868.1 2055.1 871.9 2053.5C875.9 2051.8 879.9 2049.6 883.9 2048.5C887.9 2047.4 891.8 2046.1 895.8 2046.1C899.8 2046.1 903.8 2047.3 907.8 2048.5C911.8 2049.7 915.7 2053.3 919.7 2056.8C923.7 2060.3 927.7 2066.4 931.7 2071.2C935.7 2076.0 939.6 2081.0 943.6 2085.5C947.6 2090.1 951.6 2094.9 955.6 2098.6C959.6 2102.3 963.5 2106.6 967.5 2108.2C971.5 2109.8 975.5 2111.5 979.5 2111.5C983.5 2111.5 987.4 2109.7 991.4 2108.2C995.4 2106.7 999.4 2103.9 1003.4 2101.0C1007.4 2098.1 1011.3 2093.9 1015.3 2090.3C1019.3 2086.7 1023.3 2082.6 1027.3 2079.5C1031.3 2076.4 1035.2 2073.8 1039.2 2071.2C1043.2 2068.6 1047.2 2066.2 1051.2 2064.0C1055.2 2061.8 1059.1 2060.0 1063.1 2058.0C1067.1 2056.0 1071.0 2053.7 1075.0 2052.0C1079.0 2050.2 1083.0 2048.5 1087.0 2047.3C1091.0 2046.1 1094.9 2045.3 1098.9 2044.4C1102.9 2043.5 1106.9 2042.7 1110.9 2042.0C1114.9 2041.3 1118.8 2040.6 1122.8 2040.3C1130.8 2039.6 1138.7 2039.2 1146.7 2038.9C1161.1 2038.4 1175.6 2038.1 1190.0 2038.0C1203.3 2037.9 1216.7 2037.9 1230.0 2037.9C1258.3 2037.8 1286.7 2037.8 1315.0 2037.7" transform="translate(0,-0.5)"/><path d="M283.9 2037.5C315.9 2037.5 348.0 2037.5 380.0 2037.5C396.2 2037.5 412.5 2037.6 428.7 2038.0C436.5 2038.2 444.2 2039.8 452.0 2042.0C456.7 2043.3 461.3 2047.0 466.0 2051.0C471.0 2055.3 476.0 2062.1 481.0 2071.0C483.9 2076.2 486.9 2085.5 489.8 2093.0C493.5 2102.5 497.3 2112.5 501.0 2122.0C505.0 2132.2 509.0 2143.2 513.0 2152.0C516.4 2159.4 519.8 2166.5 523.2 2172.0C525.8 2176.3 528.5 2181.5 531.1 2183.0C533.2 2184.2 535.4 2185.3 537.5 2185.3C539.3 2185.3 541.2 2183.9 543.0 2182.5C544.8 2181.1 546.7 2178.1 548.5 2175.0C550.3 2171.9 552.2 2167.6 554.0 2163.0C555.8 2158.4 557.7 2152.8 559.5 2147.0C561.3 2141.2 563.2 2134.8 565.0 2128.0C566.8 2121.2 568.7 2113.5 570.5 2106.0C572.3 2098.5 574.2 2090.7 576.0 2083.0C577.8 2075.3 579.7 2067.5 581.5 2059.5C583.0 2053.1 584.4 2046.6 585.9 2040.0C588.8 2026.9 591.8 2012.8 594.7 2000.0C597.9 1986.1 601.1 1973.3 604.3 1960.0C607.5 1946.6 610.8 1933.1 614.0 1920.0C617.3 1906.5 620.7 1892.7 624.0 1880.0C628.1 1864.2 632.3 1851.5 636.4 1835.0C638.8 1825.3 641.3 1812.7 643.7 1803.0C646.1 1793.6 648.4 1785.0 650.8 1777.0C652.9 1769.8 655.1 1761.7 657.2 1757.0C659.4 1752.0 661.7 1747.5 663.9 1745.5C665.4 1744.1 667.0 1743.0 668.5 1742.6C669.9 1742.2 671.3 1741.9 672.7 1741.9C674.5 1741.9 676.2 1743.4 678.0 1745.0C679.9 1746.7 681.8 1750.6 683.7 1756.0C685.8 1761.9 687.9 1777.9 690.0 1790.0C691.9 1800.7 693.7 1813.3 695.6 1824.3C698.9 1843.7 702.2 1860.6 705.4 1880.1C706.7 1887.7 708.0 1895.7 709.3 1903.9C710.5 1911.6 711.7 1919.9 712.9 1927.8C714.5 1938.3 716.1 1949.0 717.7 1958.9C719.3 1968.8 720.9 1978.0 722.5 1987.5C724.1 1997.0 725.7 2007.0 727.3 2016.2C728.9 2025.3 730.4 2034.4 732.0 2042.5C734.0 2052.8 736.0 2062.5 738.0 2071.2C740.0 2079.9 742.0 2088.7 744.0 2095.1C746.4 2102.8 748.8 2109.9 751.2 2114.2C753.6 2118.4 755.9 2122.3 758.3 2123.7C761.5 2125.6 764.7 2127.3 767.9 2127.3C771.9 2127.3 775.8 2125.4 779.8 2123.7C783.8 2122.0 787.8 2117.4 791.8 2114.2C795.8 2111.0 799.7 2108.1 803.7 2104.6C807.7 2101.0 811.7 2096.7 815.7 2092.7C819.7 2088.7 823.6 2084.2 827.6 2080.7C831.6 2077.2 835.6 2074.2 839.6 2071.2C843.6 2068.2 847.5 2065.0 851.5 2062.8C854.5 2061.1 857.5 2060.0 860.5 2058.6C864.3 2056.9 868.1 2055.1 871.9 2053.5C875.9 2051.8 879.9 2049.6 883.9 2048.5C887.9 2047.4 891.8 2046.1 895.8 2046.1C899.8 2046.1 903.8 2047.3 907.8 2048.5C911.8 2049.7 915.7 2053.3 919.7 2056.8C923.7 2060.3 927.7 2066.4 931.7 2071.2C935.7 2076.0 939.6 2081.0 943.6 2085.5C947.6 2090.1 951.6 2094.9 955.6 2098.6C959.6 2102.3 963.5 2106.6 967.5 2108.2C971.5 2109.8 975.5 2111.5 979.5 2111.5C983.5 2111.5 987.4 2109.7 991.4 2108.2C995.4 2106.7 999.4 2103.9 1003.4 2101.0C1007.4 2098.1 1011.3 2093.9 1015.3 2090.3C1019.3 2086.7 1023.3 2082.6 1027.3 2079.5C1031.3 2076.4 1035.2 2073.8 1039.2 2071.2C1043.2 2068.6 1047.2 2066.2 1051.2 2064.0C1055.2 2061.8 1059.1 2060.0 1063.1 2058.0C1067.1 2056.0 1071.0 2053.7 1075.0 2052.0C1079.0 2050.2 1083.0 2048.5 1087.0 2047.3C1091.0 2046.1 1094.9 2045.3 1098.9 2044.4C1102.9 2043.5 1106.9 2042.7 1110.9 2042.0C1114.9 2041.3 1118.8 2040.6 1122.8 2040.3C1130.8 2039.6 1138.7 2039.2 1146.7 2038.9C1161.1 2038.4 1175.6 2038.1 1190.0 2038.0C1203.3 2037.9 1216.7 2037.9 1230.0 2037.9C1258.3 2037.8 1286.7 2037.8 1315.0 2037.7" transform="translate(0,0.5)"/></g>
<path d="M200.70 1581.10 V2584.10 H1447.84" fill="none" stroke="#000" stroke-width="3.50" stroke-linecap="square" stroke-linejoin="miter"/>
<path d="M200.70 1581.10h19.50M200.70 1809.10h19.50M200.70 2037.10h19.50M200.70 2265.10h19.50M200.70 2493.10h19.50M200.70 1695.10h9.20M200.70 1923.10h9.20M200.70 2151.10h9.20M200.70 2379.10h9.20M283.60 2584.10v-19.50M366.76 2584.10v-10.50M449.92 2584.10v-19.50M533.08 2584.10v-10.50M616.24 2584.10v-19.50M699.40 2584.10v-10.50M782.56 2584.10v-19.50M865.72 2584.10v-10.50M948.88 2584.10v-19.50M1032.04 2584.10v-10.50M1115.20 2584.10v-19.50M1198.36 2584.10v-10.50M1281.52 2584.10v-19.50M1364.68 2584.10v-10.50M1447.84 2584.10v-19.50" fill="none" stroke="#000" stroke-width="3.50"/>
<text x="178.5" y="1593.1" font-size="55.0" text-anchor="end">10</text>
<text x="178.5" y="1821.1" font-size="55.0" text-anchor="end">5</text>
<text x="178.5" y="2049.1" font-size="55.0" text-anchor="end">0</text>
<text x="178.5" y="2277.1" font-size="55.0" text-anchor="end">−5</text>
<text x="178.5" y="2505.1" font-size="55.0" text-anchor="end">−10</text>
<text x="283.1" y="2642.0" font-size="55.0" text-anchor="middle">0</text>
<text x="449.4" y="2642.0" font-size="55.0" text-anchor="middle">2</text>
<text x="615.7" y="2642.0" font-size="55.0" text-anchor="middle">4</text>
<text x="782.1" y="2642.0" font-size="55.0" text-anchor="middle">6</text>
<text x="948.4" y="2642.0" font-size="55.0" text-anchor="middle">8</text>
<text x="1114.7" y="2642.0" font-size="55.0" text-anchor="middle">10</text>
<text x="1281.0" y="2642.0" font-size="55.0" text-anchor="middle">12</text>
<text x="1447.3" y="2642.0" font-size="55.0" text-anchor="middle">14</text>
<text x="616.5" y="2755.0" font-size="56.0" text-anchor="start" textLength="414.0" lengthAdjust="spacingAndGlyphs">Simulation time/s</text>
<text transform="translate(75,2340) rotate(-90)" font-size="56" textLength="520" lengthAdjust="spacingAndGlyphs">Front wheel angle/dge</text>
<rect x="1080.00" y="1558.50" width="426.50" height="315.20" fill="#fff" stroke="#000" stroke-width="1.4"/>
<path d="M1088.00 1599.70h140.50" stroke="#008000" stroke-width="6.2" stroke-linecap="round" fill="none"/>
<text x="1241.5" y="1619.3" font-size="55.5" text-anchor="start" textLength="242.5" lengthAdjust="spacingAndGlyphs">DOA-RRT</text>
<path d="M1088.00 1677.90h140.50" stroke="#000000" stroke-width="6.2" stroke-linecap="round" fill="none"/>
<text x="1241.5" y="1697.5" font-size="55.5" text-anchor="start" textLength="227.0" lengthAdjust="spacingAndGlyphs">SOA-APF</text>
<path d="M1088.00 1754.60h140.50" stroke="#4264b0" stroke-width="6.2" stroke-linecap="round" fill="none"/>
<text x="1241.5" y="1774.2" font-size="55.5" text-anchor="start" textLength="238.0" lengthAdjust="spacingAndGlyphs">DOA-APF</text>
<path d="M1088.00 1832.20h140.50" stroke="#f43c50" stroke-width="6.2" stroke-linecap="round" fill="none"/>
<text x="1241.5" y="1851.8" font-size="55.5" text-anchor="start" textLength="256.0" lengthAdjust="spacingAndGlyphs">DOA-IAPF</text>
<text x="791" y="2910" font-size="84" text-anchor="middle" textLength="92" lengthAdjust="spacingAndGlyphs">(<tspan font-weight="bold">c</tspan>)</text>
</g>
</svg>
</body></html>
